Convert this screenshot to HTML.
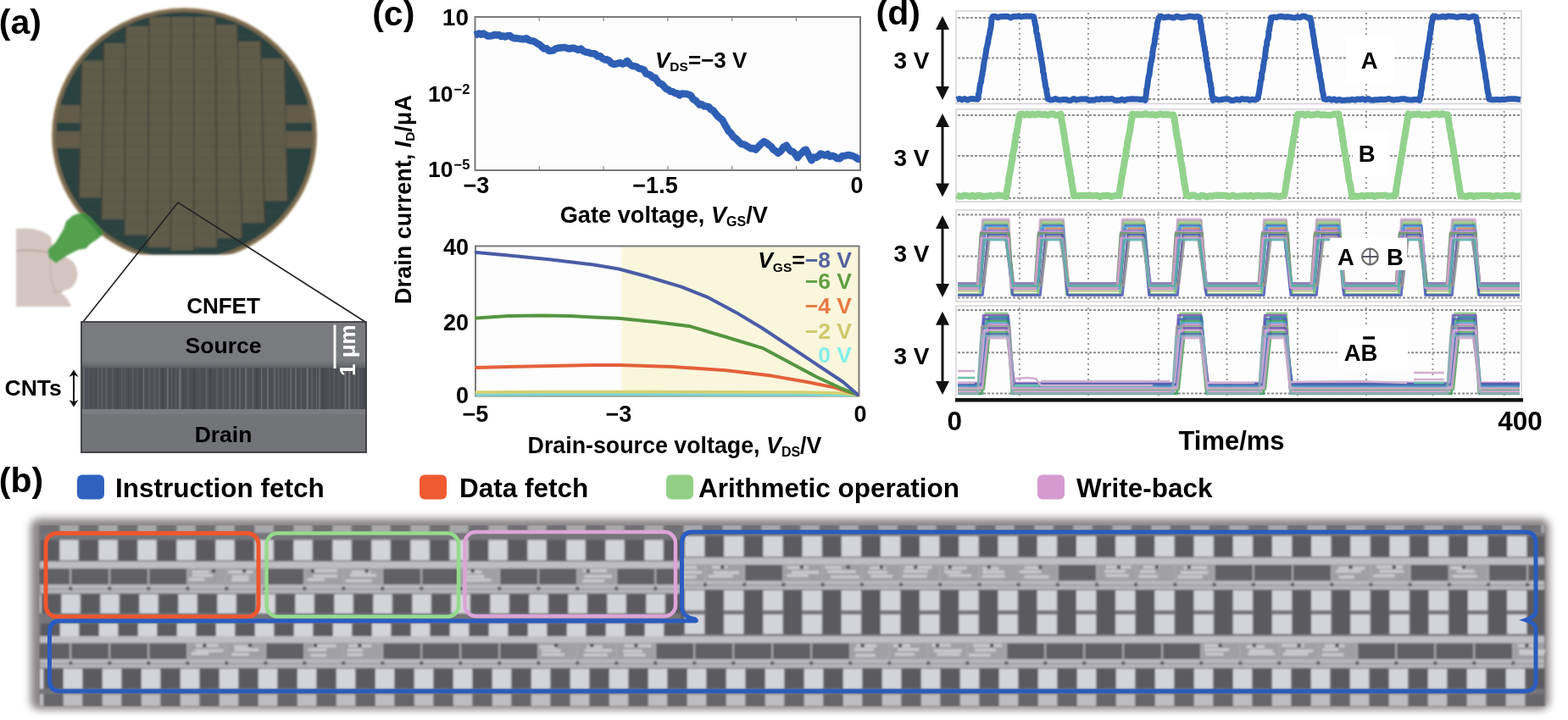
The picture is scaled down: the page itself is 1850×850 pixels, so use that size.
<!DOCTYPE html>
<html><head><meta charset="utf-8"><title>CNT computer figure</title>
<style>html,body{margin:0;padding:0;background:#fff;width:1850px;height:850px;overflow:hidden}svg{display:block}</style>
</head><body>
<svg width="1850" height="850" viewBox="0 0 1850 850" font-family='"Liberation Sans", Arial, sans-serif'>
<rect width="1850" height="850" fill="#fff"/>
<defs><filter id="hblur"><feGaussianBlur stdDeviation="0.8"/></filter></defs>
<text x="-1.2" y="40" font-size="41" text-anchor="start" font-weight="bold" fill="#000" >(a)</text>
<g filter="url(#hblur)"><path d="M19,270 C35,268 52,271 60,280 L63,296 C70,299 80,304 87,310 C93,318 93,330 86,338 C82,342 76,343 70,344 C76,348 82,355 84,362 L19,362 Z" fill="#d4c6bf"/>
<path d="M19,296 C35,294 48,296 60,299" stroke="#bda9a0" stroke-width="2" fill="none"/>
<path d="M62,344 C66,345 70,345 74,344" stroke="#bda9a0" stroke-width="1.5" fill="none"/>
<path d="M60,300 C58,320 60,335 66,345" stroke="#c9b9b1" stroke-width="2" fill="none"/></g>
<defs><clipPath id="wclip"><path d="M60.8,160 A156.7,151 0 0 1 374.2,160 A156.7,151 0 0 1 283,297 Q276,300.5 263,300.5 L173,300.5 Q159,300.5 152,297 A156.7,151 0 0 1 60.8,160 Z"/></clipPath><clipPath id="wclip2"><ellipse cx="217.5" cy="160" rx="151.2" ry="145.5"/></clipPath><filter id="wblur"><feGaussianBlur stdDeviation="0.9"/></filter></defs>
<g filter="url(#wblur)"><g clip-path="url(#wclip)">
<rect x="55" y="5" width="325" height="300" fill="#ae9872"/>
<ellipse cx="217.5" cy="160" rx="155.3" ry="149.6" fill="#76684f"/>
<g clip-path="url(#wclip2)"><rect x="55" y="5" width="325" height="300" fill="#2b4240"/>
<path d="M96.4,71.5 L122.3,71.5 L120.1,233.5 L93.2,233.5 Z" fill="#5f5b49"/>
<path d="M122.6,51 L148.3,51 L146.9,259 L119.8,259 Z" fill="#5f5b49"/>
<path d="M148.4,31 L175.8,31 L174.1,277.5 L146.8,277.5 Z" fill="#5f5b49"/>
<path d="M175.9,20 L201.4,20 L201.4,292 L174.0,292 Z" fill="#5f5b49"/>
<path d="M201.4,20 L228.8,20 L228.7,295.5 L201.4,295.5 Z" fill="#5f5b49"/>
<path d="M228.8,20 L254.3,20 L256.0,292 L228.7,292 Z" fill="#5f5b49"/>
<path d="M254.4,29 L280.0,29 L285.7,281 L255.9,281 Z" fill="#5f5b49"/>
<path d="M280.5,49 L307.8,49 L312.3,263 L285.3,263 Z" fill="#5f5b49"/>
<path d="M308.2,69 L335.7,69 L339.3,237 L311.8,237 Z" fill="#5f5b49"/>
<line x1="96.4" y1="71.5" x2="93.2" y2="233.5" stroke="#3f4038" stroke-width="1.4"/>
<line x1="122.6" y1="51" x2="119.8" y2="259" stroke="#3f4038" stroke-width="1.4"/>
<line x1="148.4" y1="31" x2="146.8" y2="277.5" stroke="#3f4038" stroke-width="1.4"/>
<line x1="175.9" y1="20" x2="174.0" y2="292" stroke="#3f4038" stroke-width="1.4"/>
<line x1="201.4" y1="20" x2="201.4" y2="295.5" stroke="#3f4038" stroke-width="1.4"/>
<line x1="228.8" y1="20" x2="228.7" y2="295.5" stroke="#3f4038" stroke-width="1.4"/>
<line x1="254.3" y1="20" x2="256.0" y2="292" stroke="#3f4038" stroke-width="1.4"/>
<line x1="280.0" y1="29" x2="285.7" y2="281" stroke="#3f4038" stroke-width="1.4"/>
<line x1="307.8" y1="49" x2="312.3" y2="263" stroke="#3f4038" stroke-width="1.4"/>
<line x1="335.7" y1="69" x2="339.3" y2="237" stroke="#3f4038" stroke-width="1.4"/>
<rect x="58.0" y="124" width="36.8" height="21" fill="#625c4a"/>
<rect x="58.0" y="155" width="36.8" height="20" fill="#625c4a"/>
<rect x="337.4" y="124" width="38.6" height="21" fill="#625c4a"/>
<rect x="337.4" y="155" width="38.6" height="20" fill="#625c4a"/>
<line x1="92" y1="30" x2="341" y2="30" stroke="#55523f" stroke-width="0.7" opacity="0.6"/>
<line x1="92" y1="43" x2="341" y2="43" stroke="#55523f" stroke-width="0.7" opacity="0.6"/>
<line x1="92" y1="56" x2="341" y2="56" stroke="#55523f" stroke-width="0.7" opacity="0.6"/>
<line x1="92" y1="69" x2="341" y2="69" stroke="#55523f" stroke-width="0.7" opacity="0.6"/>
<line x1="92" y1="82" x2="341" y2="82" stroke="#55523f" stroke-width="0.7" opacity="0.6"/>
<line x1="92" y1="95" x2="341" y2="95" stroke="#55523f" stroke-width="0.7" opacity="0.6"/>
<line x1="92" y1="108" x2="341" y2="108" stroke="#55523f" stroke-width="0.7" opacity="0.6"/>
<line x1="92" y1="121" x2="341" y2="121" stroke="#55523f" stroke-width="0.7" opacity="0.6"/>
<line x1="92" y1="134" x2="341" y2="134" stroke="#55523f" stroke-width="0.7" opacity="0.6"/>
<line x1="92" y1="147" x2="341" y2="147" stroke="#55523f" stroke-width="0.7" opacity="0.6"/>
<line x1="92" y1="160" x2="341" y2="160" stroke="#55523f" stroke-width="0.7" opacity="0.6"/>
<line x1="92" y1="173" x2="341" y2="173" stroke="#55523f" stroke-width="0.7" opacity="0.6"/>
<line x1="92" y1="186" x2="341" y2="186" stroke="#55523f" stroke-width="0.7" opacity="0.6"/>
<line x1="92" y1="199" x2="341" y2="199" stroke="#55523f" stroke-width="0.7" opacity="0.6"/>
<line x1="92" y1="212" x2="341" y2="212" stroke="#55523f" stroke-width="0.7" opacity="0.6"/>
<line x1="92" y1="225" x2="341" y2="225" stroke="#55523f" stroke-width="0.7" opacity="0.6"/>
<line x1="92" y1="238" x2="341" y2="238" stroke="#55523f" stroke-width="0.7" opacity="0.6"/>
<line x1="92" y1="251" x2="341" y2="251" stroke="#55523f" stroke-width="0.7" opacity="0.6"/>
<line x1="92" y1="264" x2="341" y2="264" stroke="#55523f" stroke-width="0.7" opacity="0.6"/>
<line x1="92" y1="277" x2="341" y2="277" stroke="#55523f" stroke-width="0.7" opacity="0.6"/>
<line x1="92" y1="290" x2="341" y2="290" stroke="#55523f" stroke-width="0.7" opacity="0.6"/>
</g></g></g>
<g filter="url(#hblur)"><path d="M56.6,295 L65.8,286 L75,270.6 L78,261.4 L85.7,254.5 L91.8,252.2 L99.5,251.5 L107,256.8 L116.3,267.5 L122.4,275.2 L116.3,281.3 L107,287.4 L101,293.5 L91.8,295 L79.6,301.2 L65.8,310.4 L58,304 Z" fill="#52a04e"/>
<path d="M99.5,251.5 L107,256.8 L116.3,267.5 L122.4,275.2 L118,278 L110,268 L102,259 L95,254 Z" fill="#3f8a40"/></g>
<path d="M98,380 L210,239 L431,380" fill="none" stroke="#222" stroke-width="1.6"/>
<text x="263.5" y="370" font-size="26" text-anchor="middle" font-weight="bold" fill="#000" >CNFET</text>
<rect x="96" y="380" width="336" height="154" fill="#76777b"/>
<rect x="96" y="380" width="336" height="50" fill="#7a7b7f"/>
<defs><linearGradient id="semg" x1="0" y1="0" x2="0" y2="1"><stop offset="0" stop-color="#7a7b7f"/><stop offset="1" stop-color="#5d5e62"/></linearGradient></defs>
<rect x="96" y="426" width="336" height="9" fill="url(#semg)"/>
<rect x="96" y="434.5" width="336" height="49" fill="#4d4f54"/>
<rect x="98.0" y="435" width="2" height="48" fill="#63656a"/>
<rect x="103.6" y="435" width="1" height="48" fill="#5c5e63"/>
<rect x="109.9" y="435" width="1" height="48" fill="#575a5e"/>
<rect x="115.2" y="435" width="1.5" height="48" fill="#5c5e63"/>
<rect x="119.0" y="435" width="2.5" height="48" fill="#5c5e63"/>
<rect x="124.5" y="435" width="2.5" height="48" fill="#5c5e63"/>
<rect x="132.3" y="435" width="1" height="48" fill="#63656a"/>
<rect x="137.8" y="435" width="1" height="48" fill="#444649"/>
<rect x="143.2" y="435" width="1" height="48" fill="#63656a"/>
<rect x="146.4" y="435" width="1.5" height="48" fill="#575a5e"/>
<rect x="151.5" y="435" width="1" height="48" fill="#444649"/>
<rect x="155.8" y="435" width="1.5" height="48" fill="#5c5e63"/>
<rect x="161.6" y="435" width="1.5" height="48" fill="#575a5e"/>
<rect x="165.5" y="435" width="1" height="48" fill="#444649"/>
<rect x="168.7" y="435" width="1.5" height="48" fill="#6a6c71"/>
<rect x="174.9" y="435" width="2.5" height="48" fill="#575a5e"/>
<rect x="181.3" y="435" width="2.5" height="48" fill="#575a5e"/>
<rect x="187.0" y="435" width="1.5" height="48" fill="#63656a"/>
<rect x="190.8" y="435" width="2" height="48" fill="#444649"/>
<rect x="196.8" y="435" width="2" height="48" fill="#6a6c71"/>
<rect x="202.0" y="435" width="1" height="48" fill="#5c5e63"/>
<rect x="207.0" y="435" width="1.5" height="48" fill="#575a5e"/>
<rect x="211.1" y="435" width="2.5" height="48" fill="#6a6c71"/>
<rect x="215.8" y="435" width="1" height="48" fill="#444649"/>
<rect x="221.1" y="435" width="2" height="48" fill="#575a5e"/>
<rect x="227.9" y="435" width="2.5" height="48" fill="#444649"/>
<rect x="235.5" y="435" width="1" height="48" fill="#5c5e63"/>
<rect x="242.3" y="435" width="2.5" height="48" fill="#5c5e63"/>
<rect x="247.1" y="435" width="2" height="48" fill="#444649"/>
<rect x="255.0" y="435" width="2.5" height="48" fill="#575a5e"/>
<rect x="262.4" y="435" width="2" height="48" fill="#5c5e63"/>
<rect x="270.2" y="435" width="2" height="48" fill="#63656a"/>
<rect x="276.6" y="435" width="2.5" height="48" fill="#5c5e63"/>
<rect x="282.0" y="435" width="2" height="48" fill="#63656a"/>
<rect x="288.9" y="435" width="2.5" height="48" fill="#6a6c71"/>
<rect x="297.1" y="435" width="2.5" height="48" fill="#5c5e63"/>
<rect x="302.3" y="435" width="2.5" height="48" fill="#444649"/>
<rect x="307.9" y="435" width="1.5" height="48" fill="#6a6c71"/>
<rect x="314.8" y="435" width="2" height="48" fill="#6a6c71"/>
<rect x="322.8" y="435" width="2.5" height="48" fill="#63656a"/>
<rect x="327.9" y="435" width="1.5" height="48" fill="#63656a"/>
<rect x="332.3" y="435" width="1.5" height="48" fill="#5c5e63"/>
<rect x="337.8" y="435" width="1.5" height="48" fill="#575a5e"/>
<rect x="342.4" y="435" width="1.5" height="48" fill="#6a6c71"/>
<rect x="348.0" y="435" width="2" height="48" fill="#63656a"/>
<rect x="354.8" y="435" width="1" height="48" fill="#6a6c71"/>
<rect x="361.4" y="435" width="2.5" height="48" fill="#6a6c71"/>
<rect x="367.5" y="435" width="1" height="48" fill="#6a6c71"/>
<rect x="373.0" y="435" width="1" height="48" fill="#63656a"/>
<rect x="376.3" y="435" width="1.5" height="48" fill="#6a6c71"/>
<rect x="380.4" y="435" width="2" height="48" fill="#444649"/>
<rect x="384.6" y="435" width="1" height="48" fill="#444649"/>
<rect x="388.2" y="435" width="1" height="48" fill="#575a5e"/>
<rect x="393.7" y="435" width="1" height="48" fill="#63656a"/>
<rect x="399.2" y="435" width="1.5" height="48" fill="#575a5e"/>
<rect x="406.5" y="435" width="2" height="48" fill="#6a6c71"/>
<rect x="411.0" y="435" width="2.5" height="48" fill="#6a6c71"/>
<rect x="417.4" y="435" width="2" height="48" fill="#5c5e63"/>
<rect x="422.0" y="435" width="2" height="48" fill="#575a5e"/>
<rect x="427.9" y="435" width="1.5" height="48" fill="#444649"/>
<rect x="96" y="483" width="336" height="7" fill="#7b7c80"/>
<rect x="96" y="489" width="336" height="45" fill="#737478"/>
<rect x="96" y="380" width="336" height="154" fill="none" stroke="#3a3a3c" stroke-width="1.8"/>
<text x="263.5" y="417" font-size="26.5" text-anchor="middle" font-weight="bold" fill="#000" >Source</text>
<text x="263.5" y="521.5" font-size="26.5" text-anchor="middle" font-weight="bold" fill="#000" >Drain</text>
<text x="5.5" y="467" font-size="26.5" text-anchor="start" font-weight="bold" fill="#000" >CNTs</text>
<line x1="87" y1="442" x2="87" y2="475" stroke="#111" stroke-width="2"/>
<path d="M81.5,445 L87,436.5 L92.5,445 L87,442.5 Z" fill="#111"/>
<path d="M81.5,472 L87,480.5 L92.5,472 L87,474.5 Z" fill="#111"/>
<rect x="393.5" y="383.5" width="3" height="51.5" fill="#f4f4f4"/>
<text x="0" y="0" font-size="26" text-anchor="start" font-weight="bold" fill="#fff" transform="translate(419,444) rotate(-90)">1 μm</text>
<text x="439.2" y="29.5" font-size="41" text-anchor="start" font-weight="bold" fill="#000" >(c)</text>
<rect x="560.5" y="20" width="454.5" height="181" fill="#fcfcfc" stroke="#7a7a7a" stroke-width="2"/>
<line x1="636.3" y1="21" x2="636.3" y2="25" stroke="#888" stroke-width="1.2"/>
<line x1="636.3" y1="196" x2="636.3" y2="200" stroke="#888" stroke-width="1.2"/>
<line x1="712.1" y1="21" x2="712.1" y2="25" stroke="#888" stroke-width="1.2"/>
<line x1="712.1" y1="196" x2="712.1" y2="200" stroke="#888" stroke-width="1.2"/>
<line x1="787.9" y1="21" x2="787.9" y2="25" stroke="#888" stroke-width="1.2"/>
<line x1="787.9" y1="196" x2="787.9" y2="200" stroke="#888" stroke-width="1.2"/>
<line x1="863.7" y1="21" x2="863.7" y2="25" stroke="#888" stroke-width="1.2"/>
<line x1="863.7" y1="196" x2="863.7" y2="200" stroke="#888" stroke-width="1.2"/>
<line x1="939.5" y1="21" x2="939.5" y2="25" stroke="#888" stroke-width="1.2"/>
<line x1="939.5" y1="196" x2="939.5" y2="200" stroke="#888" stroke-width="1.2"/>
<path d="M560.2,41.6 L562.8,40.5 L565.4,39.5 L567.9,40.8 L570.5,39.5 L573.1,41.1 L575.7,42.6 L578.3,42.5 L580.9,42.1 L583.4,41.0 L586.0,41.5 L588.6,41.1 L591.2,43.0 L593.8,42.5 L596.3,43.4 L598.9,42.2 L601.5,42.1 L604.3,44.3 L607.1,45.2 L609.9,45.3 L612.6,45.6 L615.4,46.1 L618.2,46.3 L621.0,45.2 L623.7,47.3 L626.3,48.1 L629.0,48.4 L631.6,49.7 L634.3,51.7 L637.0,52.9 L639.6,55.5 L642.3,57.5 L644.9,57.3 L647.6,60.0 L650.2,59.9 L652.9,59.5 L655.5,57.5 L658.2,56.8 L660.8,56.5 L663.4,56.2 L666.1,55.9 L668.7,56.9 L671.4,57.5 L674.0,57.0 L676.8,56.7 L679.7,57.9 L682.5,59.0 L685.3,57.6 L688.1,60.1 L691.0,61.5 L693.8,61.8 L696.6,62.9 L699.4,63.2 L702.2,63.5 L705.1,66.4 L707.9,66.2 L710.7,68.8 L713.5,70.4 L716.1,70.2 L718.8,71.7 L721.4,74.8 L724.1,75.7 L726.7,75.5 L729.4,74.7 L732.0,74.1 L734.7,75.6 L737.3,74.6 L740.0,71.9 L742.8,75.6 L745.6,77.6 L748.4,78.2 L751.3,78.8 L754.1,81.0 L756.9,81.3 L759.7,82.5 L762.4,87.0 L765.0,87.6 L767.7,88.9 L770.3,91.7 L773.0,91.8 L775.6,95.8 L778.2,98.4 L780.8,99.2 L783.4,102.1 L786.0,104.9 L788.6,105.9 L791.2,108.1 L793.8,108.3 L796.4,110.0 L799.0,110.3 L801.7,112.5 L804.4,110.6 L807.1,110.7 L809.8,110.9 L812.5,111.7 L815.1,112.9 L817.7,117.0 L820.4,118.4 L823.0,121.1 L825.6,123.7 L828.2,123.2 L830.9,125.4 L833.5,125.6 L836.2,126.1 L838.8,129.5 L841.4,130.3 L844.1,133.8 L846.7,137.2 L849.4,139.3 L852.0,141.3 L854.5,145.9 L857.0,150.1 L859.5,154.8 L862.0,156.8 L865.3,161.5 L868.5,163.9 L871.8,167.3 L874.6,170.0 L877.5,170.4 L880.3,171.8 L883.1,173.6 L885.9,175.2 L888.8,175.0 L891.6,176.7 L894.9,173.1 L898.2,169.8 L901.5,167.1 L904.2,168.6 L907.0,171.0 L909.8,173.0 L912.5,176.6 L915.2,178.1 L918.0,180.8 L921.3,178.3 L924.6,173.5 L927.9,171.7 L930.5,175.8 L933.1,178.4 L935.8,179.3 L938.4,182.2 L941.0,186.1 L943.5,182.5 L946.0,180.6 L948.5,177.6 L951.0,176.9 L954.2,183.1 L957.5,189.2 L960.1,185.6 L962.8,186.0 L965.4,184.5 L968.1,181.6 L970.7,182.4 L973.5,183.4 L976.4,181.9 L979.2,184.8 L982.0,183.9 L984.8,184.8 L987.7,187.1 L990.5,187.3 L993.8,184.2 L997.1,183.9 L1000.4,183.0 L1003.3,183.5 L1006.2,184.1 L1009.2,185.5 L1012.1,187.7 L1015.0,188.0" fill="none" stroke="#2f5fb5" stroke-width="8.5" stroke-linejoin="round"/>
<text x="773" y="79.5" font-size="26" text-anchor="start" font-weight="bold" fill="#000" ><tspan font-style="italic">V</tspan><tspan font-size="15.5" dy="4.5">DS</tspan><tspan dy="-4.5">=−3 V</tspan></text>
<text x="553" y="30" font-size="28" text-anchor="end" font-weight="bold" fill="#000" >10</text>
<text x="534.5" y="119.5" font-size="26.5" text-anchor="end" font-weight="bold" fill="#000" >10</text>
<text x="535.5" y="110.5" font-size="16.5" text-anchor="start" font-weight="bold" fill="#000" >−2</text>
<text x="534.5" y="209" font-size="26.5" text-anchor="end" font-weight="bold" fill="#000" >10</text>
<text x="535.5" y="200" font-size="16.5" text-anchor="start" font-weight="bold" fill="#000" >−5</text>
<text x="562" y="228" font-size="27" text-anchor="middle" font-weight="bold" fill="#000" >−3</text>
<text x="773" y="228" font-size="27" text-anchor="middle" font-weight="bold" fill="#000" >−1.5</text>
<text x="1011" y="228" font-size="27" text-anchor="middle" font-weight="bold" fill="#000" >0</text>
<text x="783.3" y="262.7" font-size="27.2" text-anchor="middle" font-weight="bold" fill="#000" >Gate voltage, <tspan font-style="italic">V</tspan><tspan font-size="16" dy="4">GS</tspan><tspan dy="-4">/V</tspan></text>
<text x="0" y="0" font-size="27" text-anchor="middle" font-weight="bold" fill="#000" transform="translate(484.8,235.5) rotate(-90)">Drain current, <tspan font-style="italic">I</tspan><tspan font-size="15.5" dy="4.5">D</tspan><tspan dy="-4.5">/μA</tspan></text>
<rect x="561" y="290.5" width="452.5" height="177" fill="#fcfcfc"/>
<rect x="733.5" y="290.5" width="280" height="177" fill="#f9f6dc"/>
<rect x="561" y="290.5" width="452.5" height="177" fill="none" stroke="#7a7a7a" stroke-width="2"/>
<path d="M562,466 L650,465.8 L733,465.8 L850,466 L950,466 L1012,466.5" fill="none" stroke="#7fd8d0" stroke-width="3.5" stroke-linejoin="round" stroke-linecap="round"/>
<path d="M562,463 L650,462.5 L733,462.5 L850,462.7 L950,463 L990,464 L1012,466" fill="none" stroke="#d6d070" stroke-width="3.5" stroke-linejoin="round" stroke-linecap="round"/>
<path d="M562,434 L600,433 L650,432 L700,431 L730,430.9 L793.6,433 L857,437.2 L910,443.6 L952.5,451 L984,457.4 L1011.8,465.8" fill="none" stroke="#e4603a" stroke-width="4" stroke-linejoin="round" stroke-linecap="round"/>
<path d="M562,375.5 L600,373 L640,372.5 L672,373 L700,374.5 L730,375.8 L772.4,380 L814.7,385.3 L857,398 L899.5,410.8 L931.3,427.7 L963,444.7 L994.8,459.5 L1011.8,465.8" fill="none" stroke="#55953f" stroke-width="4" stroke-linejoin="round" stroke-linecap="round"/>
<path d="M562,298 L600,301.5 L650,306.5 L700,312.5 L730,317.5 L761.8,326 L804,338.7 L836,351.4 L867.7,368.4 L899.5,387.5 L931.3,408.6 L963,429.8 L994.8,451 L1011.8,465.8" fill="none" stroke="#4a5ca6" stroke-width="4" stroke-linejoin="round" stroke-linecap="round"/>
<text x="1005" y="316" font-size="26.5" text-anchor="end" font-weight="bold" fill="#000" ><tspan font-style="italic" fill="#000">V</tspan><tspan font-size="15.5" dy="4.5" fill="#000">GS</tspan><tspan dy="-5" fill="#000">=</tspan><tspan fill="#55649f">−8 V</tspan></text>
<text x="1005" y="340.5" font-size="26.5" text-anchor="end" font-weight="bold" fill="#62a044" >−6 V</text>
<text x="1005" y="370" font-size="26.5" text-anchor="end" font-weight="bold" fill="#e67a44" >−4 V</text>
<text x="1005" y="399.5" font-size="26.5" text-anchor="end" font-weight="bold" fill="#cfc86e" >−2 V</text>
<text x="1005" y="427.5" font-size="26.5" text-anchor="end" font-weight="bold" fill="#84eeea" >0 V</text>
<text x="553" y="301" font-size="27" text-anchor="end" font-weight="bold" fill="#000" >40</text>
<text x="553" y="390" font-size="27" text-anchor="end" font-weight="bold" fill="#000" >20</text>
<text x="553" y="476" font-size="27" text-anchor="end" font-weight="bold" fill="#000" >0</text>
<text x="561" y="497.5" font-size="27" text-anchor="middle" font-weight="bold" fill="#000" >−5</text>
<text x="730" y="497.5" font-size="27" text-anchor="middle" font-weight="bold" fill="#000" >−3</text>
<text x="1015" y="497.5" font-size="27" text-anchor="middle" font-weight="bold" fill="#000" >0</text>
<text x="796" y="534.5" font-size="26.8" text-anchor="middle" font-weight="bold" fill="#000" >Drain-source voltage, <tspan font-style="italic">V</tspan><tspan font-size="16" dy="4">DS</tspan><tspan dy="-4">/V</tspan></text>
<text x="1033.6" y="29.4" font-size="41" text-anchor="start" font-weight="bold" fill="#000" >(d)</text>
<rect x="1128" y="13" width="667" height="109.5" fill="#fdfdfd" stroke="#d0d0d0" stroke-width="1.4"/>
<line x1="1130" y1="21" x2="1793" y2="21" stroke="#8e8e8e" stroke-width="2" stroke-dasharray="3 2"/>
<line x1="1130" y1="68.5" x2="1793" y2="68.5" stroke="#8e8e8e" stroke-width="2" stroke-dasharray="3 2"/>
<line x1="1130" y1="117" x2="1793" y2="117" stroke="#8e8e8e" stroke-width="2" stroke-dasharray="3 2"/>
<line x1="1202.9" y1="15" x2="1202.9" y2="120.5" stroke="#9a9a9a" stroke-width="2" stroke-dasharray="2 4"/>
<line x1="1284" y1="15" x2="1284" y2="120.5" stroke="#9a9a9a" stroke-width="2" stroke-dasharray="2 4"/>
<line x1="1366.9" y1="15" x2="1366.9" y2="120.5" stroke="#9a9a9a" stroke-width="2" stroke-dasharray="2 4"/>
<line x1="1447.5" y1="15" x2="1447.5" y2="120.5" stroke="#9a9a9a" stroke-width="2" stroke-dasharray="2 4"/>
<line x1="1531" y1="15" x2="1531" y2="120.5" stroke="#9a9a9a" stroke-width="2" stroke-dasharray="2 4"/>
<line x1="1612" y1="15" x2="1612" y2="120.5" stroke="#9a9a9a" stroke-width="2" stroke-dasharray="2 4"/>
<line x1="1690.5" y1="15" x2="1690.5" y2="120.5" stroke="#9a9a9a" stroke-width="2" stroke-dasharray="2 4"/>
<line x1="1774.7" y1="15" x2="1774.7" y2="120.5" stroke="#9a9a9a" stroke-width="2" stroke-dasharray="2 4"/>
<rect x="1128" y="129" width="667" height="109" fill="#fdfdfd" stroke="#d0d0d0" stroke-width="1.4"/>
<line x1="1130" y1="136" x2="1793" y2="136" stroke="#8e8e8e" stroke-width="2" stroke-dasharray="3 2"/>
<line x1="1130" y1="184" x2="1793" y2="184" stroke="#8e8e8e" stroke-width="2" stroke-dasharray="3 2"/>
<line x1="1130" y1="233.8" x2="1793" y2="233.8" stroke="#8e8e8e" stroke-width="2" stroke-dasharray="3 2"/>
<line x1="1202.9" y1="131" x2="1202.9" y2="236" stroke="#9a9a9a" stroke-width="2" stroke-dasharray="2 4"/>
<line x1="1284" y1="131" x2="1284" y2="236" stroke="#9a9a9a" stroke-width="2" stroke-dasharray="2 4"/>
<line x1="1366.9" y1="131" x2="1366.9" y2="236" stroke="#9a9a9a" stroke-width="2" stroke-dasharray="2 4"/>
<line x1="1447.5" y1="131" x2="1447.5" y2="236" stroke="#9a9a9a" stroke-width="2" stroke-dasharray="2 4"/>
<line x1="1531" y1="131" x2="1531" y2="236" stroke="#9a9a9a" stroke-width="2" stroke-dasharray="2 4"/>
<line x1="1612" y1="131" x2="1612" y2="236" stroke="#9a9a9a" stroke-width="2" stroke-dasharray="2 4"/>
<line x1="1690.5" y1="131" x2="1690.5" y2="236" stroke="#9a9a9a" stroke-width="2" stroke-dasharray="2 4"/>
<line x1="1774.7" y1="131" x2="1774.7" y2="236" stroke="#9a9a9a" stroke-width="2" stroke-dasharray="2 4"/>
<rect x="1128" y="248" width="667" height="108" fill="#fdfdfd" stroke="#d0d0d0" stroke-width="1.4"/>
<line x1="1130" y1="253.6" x2="1793" y2="253.6" stroke="#8e8e8e" stroke-width="2" stroke-dasharray="3 2"/>
<line x1="1130" y1="302.6" x2="1793" y2="302.6" stroke="#8e8e8e" stroke-width="2" stroke-dasharray="3 2"/>
<line x1="1130" y1="351.5" x2="1793" y2="351.5" stroke="#8e8e8e" stroke-width="2" stroke-dasharray="3 2"/>
<line x1="1202.9" y1="250" x2="1202.9" y2="354" stroke="#9a9a9a" stroke-width="2" stroke-dasharray="2 4"/>
<line x1="1284" y1="250" x2="1284" y2="354" stroke="#9a9a9a" stroke-width="2" stroke-dasharray="2 4"/>
<line x1="1366.9" y1="250" x2="1366.9" y2="354" stroke="#9a9a9a" stroke-width="2" stroke-dasharray="2 4"/>
<line x1="1447.5" y1="250" x2="1447.5" y2="354" stroke="#9a9a9a" stroke-width="2" stroke-dasharray="2 4"/>
<line x1="1531" y1="250" x2="1531" y2="354" stroke="#9a9a9a" stroke-width="2" stroke-dasharray="2 4"/>
<line x1="1612" y1="250" x2="1612" y2="354" stroke="#9a9a9a" stroke-width="2" stroke-dasharray="2 4"/>
<line x1="1690.5" y1="250" x2="1690.5" y2="354" stroke="#9a9a9a" stroke-width="2" stroke-dasharray="2 4"/>
<line x1="1774.7" y1="250" x2="1774.7" y2="354" stroke="#9a9a9a" stroke-width="2" stroke-dasharray="2 4"/>
<rect x="1128" y="361" width="667" height="110" fill="#fdfdfd" stroke="#d0d0d0" stroke-width="1.4"/>
<line x1="1130" y1="366" x2="1793" y2="366" stroke="#8e8e8e" stroke-width="2" stroke-dasharray="3 2"/>
<line x1="1130" y1="416.3" x2="1793" y2="416.3" stroke="#8e8e8e" stroke-width="2" stroke-dasharray="3 2"/>
<line x1="1130" y1="464.6" x2="1793" y2="464.6" stroke="#8e8e8e" stroke-width="2" stroke-dasharray="3 2"/>
<line x1="1202.9" y1="363" x2="1202.9" y2="469" stroke="#9a9a9a" stroke-width="2" stroke-dasharray="2 4"/>
<line x1="1284" y1="363" x2="1284" y2="469" stroke="#9a9a9a" stroke-width="2" stroke-dasharray="2 4"/>
<line x1="1366.9" y1="363" x2="1366.9" y2="469" stroke="#9a9a9a" stroke-width="2" stroke-dasharray="2 4"/>
<line x1="1447.5" y1="363" x2="1447.5" y2="469" stroke="#9a9a9a" stroke-width="2" stroke-dasharray="2 4"/>
<line x1="1531" y1="363" x2="1531" y2="469" stroke="#9a9a9a" stroke-width="2" stroke-dasharray="2 4"/>
<line x1="1612" y1="363" x2="1612" y2="469" stroke="#9a9a9a" stroke-width="2" stroke-dasharray="2 4"/>
<line x1="1690.5" y1="363" x2="1690.5" y2="469" stroke="#9a9a9a" stroke-width="2" stroke-dasharray="2 4"/>
<line x1="1774.7" y1="363" x2="1774.7" y2="469" stroke="#9a9a9a" stroke-width="2" stroke-dasharray="2 4"/>
<rect x="1588" y="42" width="57.5" height="56" fill="#fff"/>
<rect x="1596" y="155" width="43" height="52" fill="#fff"/>
<path d="M1128.7,117.6 L1132.0,116.5 L1135.0,117.7 L1138.2,116.6 L1141.5,118.1 L1144.6,116.7 L1147.2,116.6 L1150.6,117.0 L1153.3,117.3 L1154.3,115.2 L1154.4,110.9 L1155.3,108.8 L1155.7,104.9 L1155.9,103.1 L1156.6,98.9 L1157.5,97.1 L1157.9,93.0 L1158.5,90.0 L1159.0,87.9 L1159.2,85.1 L1160.1,81.6 L1160.2,79.1 L1160.8,75.4 L1161.3,72.3 L1161.8,69.9 L1162.4,67.8 L1162.9,64.3 L1163.4,61.1 L1163.8,57.9 L1164.3,55.9 L1165.2,51.9 L1165.7,50.4 L1166.0,47.2 L1166.7,43.6 L1167.5,40.5 L1167.8,38.1 L1168.6,34.5 L1169.1,32.2 L1169.5,28.7 L1169.8,25.0 L1170.2,22.1 L1171.1,19.5 L1173.9,19.2 L1177.3,20.7 L1180.3,19.6 L1183.1,19.6 L1186.3,19.3 L1189.3,19.5 L1192.7,20.9 L1195.5,19.5 L1198.8,19.6 L1201.5,19.0 L1204.6,19.9 L1207.8,19.4 L1210.8,19.0 L1213.7,19.2 L1216.9,19.1 L1219.7,19.6 L1220.4,23.2 L1221.0,26.6 L1221.6,29.6 L1222.3,32.0 L1222.5,36.2 L1222.9,38.7 L1223.7,40.4 L1224.3,45.2 L1224.7,47.9 L1225.3,49.7 L1225.7,53.5 L1226.4,57.2 L1226.9,59.8 L1227.5,63.0 L1227.9,65.2 L1228.0,68.0 L1228.7,71.0 L1229.5,75.0 L1229.9,78.1 L1230.4,80.9 L1230.5,84.6 L1231.5,87.0 L1231.9,90.4 L1232.1,93.6 L1232.7,95.3 L1233.3,99.7 L1233.7,102.7 L1234.7,105.3 L1234.9,108.3 L1235.6,111.9 L1236.1,114.7 L1236.2,116.8 L1239.4,118.0 L1242.4,117.6 L1245.2,116.6 L1248.4,117.8 L1251.7,117.9 L1254.5,117.5 L1257.6,117.4 L1260.4,118.3 L1263.4,118.5 L1266.9,116.5 L1269.6,118.1 L1272.9,117.4 L1275.5,116.9 L1279.0,116.9 L1281.7,116.8 L1284.7,118.4 L1287.5,118.1 L1290.7,118.3 L1293.9,117.0 L1297.0,117.5 L1299.5,116.5 L1302.8,117.4 L1305.7,116.8 L1308.7,117.1 L1312.0,116.5 L1315.0,118.2 L1317.6,118.4 L1321.0,118.3 L1323.8,117.2 L1326.8,118.5 L1330.0,117.2 L1332.9,117.1 L1335.7,116.7 L1339.1,117.1 L1342.2,117.0 L1344.8,117.5 L1347.8,117.2 L1351.3,118.3 L1351.7,114.7 L1352.2,112.3 L1352.5,108.8 L1352.7,105.8 L1353.5,102.8 L1354.1,98.8 L1354.2,97.0 L1354.8,93.1 L1355.4,89.7 L1356.1,88.0 L1356.4,84.3 L1356.9,81.1 L1357.4,77.2 L1357.8,74.3 L1358.7,71.8 L1358.8,69.6 L1359.8,65.6 L1359.8,62.0 L1360.3,59.3 L1360.8,56.0 L1361.4,53.7 L1362.2,51.0 L1362.4,47.2 L1363.0,44.1 L1363.4,40.5 L1363.9,39.2 L1364.3,35.2 L1365.1,32.9 L1365.3,28.7 L1365.8,25.9 L1366.5,24.0 L1367.2,20.7 L1369.8,19.1 L1373.2,20.8 L1376.1,20.2 L1378.9,19.8 L1382.4,20.7 L1385.4,20.9 L1388.1,19.2 L1391.1,20.0 L1394.4,20.9 L1397.5,20.3 L1400.6,19.9 L1403.5,19.1 L1406.7,19.5 L1409.8,20.3 L1412.4,19.3 L1415.5,20.3 L1416.2,22.3 L1416.3,26.1 L1417.1,28.9 L1417.4,32.4 L1417.7,34.8 L1418.5,39.2 L1419.1,42.1 L1419.4,43.8 L1419.8,48.3 L1420.5,50.1 L1420.6,53.5 L1421.5,56.4 L1421.7,59.9 L1422.6,62.1 L1422.5,65.4 L1423.3,69.1 L1423.6,72.4 L1424.4,74.9 L1424.6,78.8 L1425.1,81.6 L1425.5,83.4 L1426.3,86.6 L1426.9,90.1 L1427.0,92.6 L1427.6,96.5 L1428.4,98.5 L1428.5,101.7 L1429.4,104.6 L1429.3,107.5 L1430.0,112.2 L1430.7,114.9 L1431.3,118.4 L1434.0,116.9 L1437.5,118.0 L1440.1,117.8 L1443.4,117.2 L1446.5,116.8 L1449.4,117.1 L1452.7,118.4 L1455.7,118.4 L1458.9,117.2 L1462.4,118.1 L1465.3,116.6 L1468.4,117.2 L1471.8,116.9 L1474.6,118.3 L1477.5,117.3 L1481.1,118.0 L1483.7,116.6 L1484.2,115.3 L1484.9,111.9 L1485.7,108.0 L1485.9,106.2 L1486.6,101.8 L1487.1,98.9 L1487.4,95.2 L1488.2,94.0 L1488.6,91.0 L1488.7,86.5 L1489.5,84.9 L1490.3,80.7 L1490.4,77.8 L1491.0,75.7 L1491.3,72.4 L1492.1,69.4 L1492.7,65.9 L1492.9,62.3 L1493.4,60.2 L1493.7,56.0 L1494.7,53.0 L1494.7,49.5 L1495.5,47.1 L1496.3,45.1 L1496.8,40.9 L1496.8,37.5 L1497.5,35.7 L1498.0,31.7 L1498.5,29.4 L1499.1,26.6 L1499.7,23.4 L1499.8,20.7 L1502.9,20.1 L1506.1,20.5 L1509.0,19.5 L1512.1,19.3 L1515.6,20.2 L1518.3,19.8 L1521.8,20.0 L1524.4,20.6 L1527.7,21.0 L1530.4,19.9 L1533.9,20.7 L1537.0,19.1 L1539.7,19.2 L1542.7,20.9 L1546.0,20.9 L1546.4,23.8 L1547.0,25.6 L1547.7,30.0 L1547.8,32.4 L1548.6,34.7 L1548.9,37.6 L1549.3,40.8 L1550.1,44.7 L1550.3,46.4 L1550.9,50.8 L1551.3,53.1 L1551.8,57.2 L1552.5,58.7 L1552.8,62.4 L1553.5,66.0 L1553.8,68.1 L1554.6,71.6 L1554.9,74.5 L1555.8,77.5 L1556.0,80.7 L1556.4,84.7 L1557.3,86.8 L1557.3,90.5 L1557.8,92.1 L1558.7,96.0 L1559.2,99.0 L1559.7,102.2 L1559.8,104.3 L1560.5,108.6 L1561.2,110.6 L1561.6,114.2 L1562.0,116.8 L1564.9,117.5 L1568.4,116.7 L1571.2,118.1 L1574.5,116.9 L1577.0,118.4 L1580.6,117.5 L1583.1,118.4 L1586.4,118.3 L1589.6,118.1 L1592.3,118.1 L1595.4,117.3 L1598.9,118.2 L1601.5,116.9 L1604.7,117.5 L1607.7,116.7 L1610.7,117.9 L1614.2,116.6 L1617.0,118.0 L1619.7,118.2 L1622.9,117.7 L1626.2,117.8 L1629.1,117.3 L1632.3,117.4 L1635.4,117.4 L1638.3,116.5 L1641.5,117.5 L1644.3,118.0 L1647.7,117.4 L1650.4,117.4 L1653.4,116.8 L1656.6,116.7 L1659.7,117.5 L1662.5,117.8 L1665.6,118.0 L1669.1,117.5 L1671.7,117.5 L1674.9,118.4 L1675.3,115.2 L1676.3,111.9 L1676.6,107.7 L1677.2,105.3 L1677.7,103.1 L1677.7,99.8 L1678.6,95.3 L1678.8,93.6 L1679.2,90.9 L1679.7,87.7 L1680.1,84.0 L1681.1,80.4 L1681.2,77.9 L1681.7,73.9 L1682.1,71.1 L1683.0,69.1 L1683.5,65.0 L1683.9,61.9 L1684.2,59.9 L1684.6,57.3 L1685.2,53.7 L1685.9,49.7 L1686.4,47.7 L1686.6,45.0 L1687.0,42.3 L1687.6,38.0 L1688.2,35.1 L1688.4,32.7 L1688.8,29.8 L1689.4,26.4 L1690.3,23.2 L1690.6,19.6 L1693.2,19.1 L1696.3,20.2 L1699.5,20.0 L1702.7,19.3 L1705.3,20.3 L1708.2,19.0 L1711.4,19.2 L1714.4,19.4 L1717.6,20.2 L1720.3,20.2 L1723.5,19.3 L1726.8,19.5 L1729.3,19.2 L1732.6,20.7 L1735.7,19.8 L1738.4,19.0 L1741.6,20.1 L1741.9,23.3 L1742.4,27.0 L1743.1,28.6 L1743.7,31.3 L1743.9,35.0 L1744.2,37.4 L1745.1,40.4 L1745.4,45.3 L1745.6,46.8 L1746.4,50.5 L1746.9,54.1 L1747.1,56.2 L1747.7,58.7 L1748.5,63.2 L1748.9,64.7 L1749.5,69.2 L1749.7,72.3 L1750.2,74.3 L1750.5,77.4 L1750.9,80.6 L1751.8,84.4 L1752.4,87.5 L1752.5,90.2 L1753.1,93.7 L1753.6,95.7 L1754.2,100.1 L1754.4,103.0 L1754.8,104.8 L1755.4,108.8 L1756.3,111.9 L1756.4,115.2 L1756.9,117.0 L1760.3,117.8 L1763.3,117.8 L1766.5,117.4 L1769.5,117.9 L1772.6,117.4 L1775.6,117.6 L1778.5,116.9 L1781.7,116.7 L1785.0,116.8 L1787.5,116.7 L1791.2,117.2 L1794.0,117.5" fill="none" stroke="#2d5cb4" stroke-width="7" stroke-linejoin="round"/>
<path d="M1128.8,230.6 L1131.8,231.7 L1135.2,231.8 L1138.3,230.6 L1141.3,231.2 L1144.4,232.0 L1147.5,230.6 L1150.6,232.1 L1153.7,230.7 L1156.3,230.7 L1159.3,232.0 L1162.7,231.6 L1165.8,231.6 L1168.6,230.7 L1171.5,231.9 L1174.6,231.1 L1177.8,230.5 L1180.8,231.0 L1184.1,231.2 L1186.9,232.2 L1187.5,229.0 L1188.1,224.5 L1188.5,222.3 L1189.1,219.1 L1189.6,216.4 L1189.8,214.0 L1190.3,210.9 L1190.8,206.5 L1191.3,204.8 L1192.3,200.4 L1192.5,198.3 L1193.2,194.8 L1193.5,192.0 L1194.2,188.9 L1194.7,185.9 L1194.8,183.7 L1195.5,179.6 L1196.1,176.5 L1196.7,174.6 L1197.2,171.5 L1197.4,168.1 L1197.9,166.0 L1198.3,163.0 L1198.7,158.7 L1199.4,157.0 L1200.0,153.0 L1200.7,149.8 L1201.0,147.3 L1201.6,144.7 L1202.1,140.9 L1202.4,137.6 L1203.2,135.5 L1206.2,134.6 L1209.0,135.7 L1212.2,134.5 L1215.1,135.9 L1218.0,134.6 L1221.1,135.6 L1224.4,134.6 L1227.1,134.7 L1230.2,135.2 L1233.2,134.9 L1236.2,136.1 L1239.6,134.5 L1242.7,134.5 L1245.5,136.1 L1248.7,135.6 L1251.6,134.7 L1252.2,137.5 L1252.4,141.0 L1252.8,144.0 L1253.7,147.6 L1254.0,150.5 L1254.5,152.6 L1255.0,156.1 L1255.6,160.0 L1255.9,162.4 L1256.5,165.1 L1256.7,168.7 L1257.6,171.8 L1258.0,174.9 L1258.4,177.5 L1258.8,180.0 L1259.4,182.6 L1259.7,186.8 L1260.4,189.5 L1260.6,192.2 L1261.2,195.5 L1261.7,198.6 L1262.4,200.8 L1262.8,204.8 L1263.1,207.3 L1263.9,209.5 L1264.1,212.8 L1264.7,217.2 L1265.1,218.7 L1265.6,222.5 L1266.2,225.4 L1266.6,229.0 L1267.0,231.2 L1270.4,230.9 L1273.3,231.2 L1276.5,230.7 L1279.7,231.1 L1282.3,231.0 L1285.7,230.5 L1288.8,231.3 L1292.0,231.1 L1294.9,230.9 L1298.3,232.2 L1301.3,230.9 L1304.6,231.2 L1307.4,230.7 L1310.8,232.0 L1313.8,231.3 L1316.9,230.9 L1320.3,231.1 L1320.6,229.0 L1321.2,225.3 L1321.4,222.5 L1321.8,220.0 L1322.4,217.0 L1322.9,213.1 L1323.4,210.2 L1323.8,206.5 L1324.6,203.9 L1324.9,201.0 L1325.5,198.2 L1326.1,195.6 L1326.4,193.1 L1327.2,188.5 L1327.7,187.0 L1328.2,182.7 L1328.7,180.5 L1328.7,176.4 L1329.7,174.6 L1329.9,170.6 L1330.3,167.8 L1331.1,165.0 L1331.3,163.0 L1332.2,158.7 L1332.7,156.4 L1333.2,153.5 L1333.7,150.7 L1334.2,146.7 L1334.6,144.3 L1335.1,141.1 L1335.7,138.3 L1335.9,134.7 L1338.8,135.2 L1341.8,135.1 L1344.9,135.2 L1348.1,135.3 L1351.4,134.3 L1354.4,135.1 L1357.3,135.5 L1360.5,135.0 L1363.3,136.0 L1366.1,135.4 L1369.5,134.4 L1372.5,135.5 L1375.7,134.9 L1378.8,135.2 L1381.6,135.9 L1384.3,135.6 L1385.1,137.9 L1385.8,141.0 L1386.0,144.3 L1386.7,146.7 L1387.0,150.1 L1387.5,153.8 L1387.9,156.8 L1388.4,159.3 L1388.8,162.3 L1389.7,165.5 L1390.1,168.0 L1390.3,170.9 L1390.9,174.5 L1391.5,176.5 L1391.9,181.0 L1392.3,182.5 L1392.7,185.4 L1393.1,190.1 L1393.8,192.6 L1394.4,196.1 L1394.8,198.5 L1395.3,201.7 L1395.7,204.7 L1396.0,207.7 L1396.6,210.8 L1396.9,212.8 L1397.3,216.9 L1398.3,219.7 L1398.5,223.0 L1399.2,225.5 L1399.4,228.0 L1400.0,231.1 L1403.0,231.7 L1406.3,230.6 L1409.1,230.6 L1411.9,232.0 L1415.2,232.2 L1418.1,230.5 L1421.1,231.6 L1424.4,232.3 L1427.2,231.2 L1430.0,231.7 L1433.1,230.8 L1436.1,230.5 L1439.4,230.7 L1442.6,230.7 L1445.6,230.7 L1448.2,231.8 L1451.3,231.8 L1454.3,230.6 L1457.6,231.8 L1460.7,231.8 L1463.3,231.6 L1466.7,231.3 L1469.8,231.0 L1472.9,231.8 L1475.4,230.5 L1478.8,232.0 L1481.5,231.1 L1484.9,230.8 L1488.0,231.4 L1490.6,231.2 L1493.9,231.3 L1496.9,230.8 L1500.0,231.2 L1503.0,231.6 L1505.9,231.2 L1509.1,232.2 L1512.1,231.5 L1514.9,230.6 L1515.8,228.8 L1516.2,225.1 L1516.6,223.2 L1517.2,219.6 L1517.4,216.2 L1518.2,213.1 L1518.6,210.5 L1519.2,207.9 L1519.4,203.4 L1519.9,201.2 L1520.5,198.9 L1521.2,194.5 L1521.7,192.9 L1522.2,189.4 L1522.4,186.9 L1523.2,183.6 L1523.7,180.0 L1523.8,177.4 L1524.7,173.7 L1525.1,172.1 L1525.4,168.5 L1526.1,165.2 L1526.3,161.8 L1527.1,159.8 L1527.5,155.5 L1528.2,153.7 L1528.4,150.4 L1529.2,147.9 L1529.5,144.2 L1530.0,140.7 L1530.3,137.6 L1531.1,135.0 L1534.1,135.0 L1537.1,134.6 L1539.9,136.1 L1543.1,134.5 L1546.3,135.7 L1549.0,135.4 L1552.2,135.2 L1555.0,134.4 L1558.6,135.9 L1561.4,135.3 L1564.3,135.7 L1567.4,136.0 L1570.6,135.8 L1573.8,134.8 L1576.3,134.7 L1579.4,134.5 L1579.8,138.3 L1580.8,141.1 L1581.3,145.0 L1581.3,147.4 L1582.0,149.5 L1582.7,152.8 L1583.0,156.5 L1583.7,159.6 L1583.9,162.2 L1584.2,166.1 L1585.2,167.8 L1585.1,170.8 L1585.8,175.0 L1586.6,177.9 L1586.6,180.8 L1587.4,183.6 L1588.0,185.5 L1588.1,189.8 L1589.0,192.6 L1589.1,195.5 L1589.8,197.6 L1590.1,200.9 L1590.5,204.3 L1591.0,206.9 L1591.4,210.7 L1591.8,213.8 L1592.4,215.5 L1593.3,218.9 L1593.8,223.0 L1594.2,224.7 L1594.5,227.7 L1595.2,232.0 L1598.1,231.3 L1600.9,232.0 L1604.0,231.6 L1606.8,230.9 L1609.8,231.8 L1613.0,230.8 L1616.2,231.0 L1619.0,230.8 L1621.9,232.0 L1624.9,230.8 L1628.0,231.1 L1631.2,230.7 L1634.3,230.6 L1637.2,231.7 L1639.8,231.4 L1642.9,231.0 L1645.8,231.2 L1646.8,229.3 L1647.2,224.7 L1647.3,223.1 L1647.7,219.8 L1648.3,217.2 L1648.7,213.9 L1649.3,209.7 L1649.6,207.9 L1650.4,203.8 L1650.8,202.1 L1651.2,198.5 L1651.7,194.7 L1652.5,192.7 L1652.7,188.6 L1653.1,186.5 L1653.8,182.9 L1654.1,180.5 L1654.9,177.8 L1655.3,173.7 L1655.5,171.7 L1656.2,168.7 L1656.5,165.8 L1657.1,162.9 L1657.9,159.2 L1657.9,157.0 L1658.7,153.9 L1659.0,149.7 L1659.8,147.0 L1660.0,144.0 L1660.7,140.3 L1661.1,138.1 L1661.6,134.5 L1664.8,135.8 L1668.0,134.9 L1671.0,135.0 L1674.1,134.4 L1677.3,136.0 L1680.2,135.2 L1683.3,135.3 L1686.1,136.0 L1689.3,134.6 L1692.3,134.8 L1695.8,134.4 L1698.5,135.6 L1701.6,134.3 L1705.0,135.3 L1708.0,135.6 L1708.3,138.9 L1709.1,140.4 L1709.3,144.2 L1710.0,146.8 L1710.2,150.1 L1710.7,153.4 L1711.6,155.6 L1712.0,159.7 L1712.2,162.8 L1713.1,165.1 L1713.4,168.9 L1713.9,171.1 L1714.6,174.8 L1714.8,176.8 L1715.3,180.2 L1716.1,183.8 L1716.6,186.9 L1717.0,188.5 L1717.3,193.1 L1718.0,194.9 L1718.3,198.6 L1718.7,201.4 L1719.1,204.2 L1719.8,206.5 L1720.1,211.2 L1720.9,214.1 L1721.3,216.9 L1721.9,220.1 L1722.0,222.6 L1722.6,225.7 L1723.1,228.5 L1723.9,231.6 L1726.6,231.4 L1729.8,232.2 L1732.8,231.0 L1736.0,230.7 L1739.0,232.2 L1742.0,231.0 L1745.1,231.5 L1748.0,230.7 L1751.0,231.0 L1754.2,231.0 L1757.2,230.7 L1760.4,232.0 L1763.5,231.5 L1766.6,230.9 L1769.7,231.3 L1772.6,231.6 L1775.6,231.1 L1778.6,230.9 L1781.8,231.2 L1784.9,230.5 L1787.8,232.1 L1790.8,231.5 L1794.0,231.4" fill="none" stroke="#92d28c" stroke-width="8" stroke-linejoin="round"/>
<path d="M1130.0,341.9 L1154.6,341.9 L1159.4,259.0 L1190.1,259.0 L1193.9,341.9 L1222.6,341.9 L1227.4,259.0 L1254.5,259.0 L1258.5,341.9 L1319.6,341.9 L1324.4,259.0 L1348.3,259.0 L1357.6,341.9 L1384.6,341.9 L1389.4,259.0 L1416.5,259.0 L1421.2,341.9 L1486.6,341.9 L1491.4,259.0 L1517.3,259.0 L1523.3,341.9 L1548.6,341.9 L1553.4,259.0 L1580.4,259.0 L1584.3,341.9 L1648.6,341.9 L1653.4,259.0 L1675.8,259.0 L1683.9,341.9 L1708.6,341.9 L1713.4,259.0 L1740.4,259.0 L1744.5,341.9 L1793.0,341.9" fill="none" stroke="#d9a8d9" stroke-width="3" stroke-linejoin="round" opacity="0.85"/>
<path d="M1130.0,339.4 L1155.2,339.4 L1160.2,260.8 L1189.0,260.8 L1194.8,339.4 L1223.2,339.4 L1228.2,260.8 L1254.5,260.8 L1260.5,339.4 L1320.2,339.4 L1325.2,260.8 L1349.5,260.8 L1357.2,339.4 L1385.2,339.4 L1390.2,260.8 L1417.2,260.8 L1423.3,339.4 L1487.2,339.4 L1492.2,260.8 L1517.4,260.8 L1524.4,339.4 L1549.2,339.4 L1554.2,260.8 L1580.1,260.8 L1586.7,339.4 L1649.2,339.4 L1654.2,260.8 L1675.3,260.8 L1683.6,339.4 L1709.2,339.4 L1714.2,260.8 L1738.0,260.8 L1746.3,339.4 L1793.0,339.4" fill="none" stroke="#a8a8a8" stroke-width="3" stroke-linejoin="round" opacity="0.85"/>
<path d="M1130.0,343.4 L1156.5,343.4 L1162.0,262.7 L1189.4,262.7 L1194.7,343.4 L1224.5,343.4 L1230.0,262.7 L1252.8,262.7 L1260.4,343.4 L1321.5,343.4 L1327.0,262.7 L1350.1,262.7 L1356.8,343.4 L1386.5,343.4 L1392.0,262.7 L1415.6,262.7 L1422.4,343.4 L1488.5,343.4 L1494.0,262.7 L1516.9,262.7 L1524.2,343.4 L1550.5,343.4 L1556.0,262.7 L1578.4,262.7 L1585.2,343.4 L1650.5,343.4 L1656.0,262.7 L1676.2,262.7 L1682.2,343.4 L1710.5,343.4 L1716.0,262.7 L1738.5,262.7 L1746.4,343.4 L1793.0,343.4" fill="none" stroke="#b8c890" stroke-width="3" stroke-linejoin="round" opacity="0.85"/>
<path d="M1130.0,347.6 L1156.5,347.6 L1162.0,264.5 L1187.8,264.5 L1193.6,347.6 L1224.5,347.6 L1230.0,264.5 L1252.4,264.5 L1258.4,347.6 L1321.5,347.6 L1327.0,264.5 L1349.2,264.5 L1356.7,347.6 L1386.5,347.6 L1392.0,264.5 L1414.8,264.5 L1423.8,347.6 L1488.5,347.6 L1494.0,264.5 L1516.5,264.5 L1524.5,347.6 L1550.5,347.6 L1556.0,264.5 L1580.0,264.5 L1586.9,347.6 L1650.5,347.6 L1656.0,264.5 L1675.1,264.5 L1682.3,347.6 L1710.5,347.6 L1716.0,264.5 L1740.2,264.5 L1744.0,347.6 L1793.0,347.6" fill="none" stroke="#78c078" stroke-width="3" stroke-linejoin="round" opacity="0.85"/>
<path d="M1130.0,334.8 L1157.1,334.8 L1162.8,266.4 L1187.8,266.4 L1195.8,334.8 L1225.1,334.8 L1230.8,266.4 L1253.6,266.4 L1259.6,334.8 L1322.1,334.8 L1327.8,266.4 L1350.3,266.4 L1356.6,334.8 L1387.1,334.8 L1392.8,266.4 L1415.9,266.4 L1423.1,334.8 L1489.1,334.8 L1494.8,266.4 L1516.5,266.4 L1523.1,334.8 L1551.1,334.8 L1556.8,266.4 L1579.1,266.4 L1585.1,334.8 L1651.1,334.8 L1656.8,266.4 L1677.1,266.4 L1683.0,334.8 L1711.1,334.8 L1716.8,266.4 L1738.9,266.4 L1744.3,334.8 L1793.0,334.8" fill="none" stroke="#3a6cc4" stroke-width="3" stroke-linejoin="round" opacity="0.85"/>
<path d="M1130.0,340.0 L1155.6,340.0 L1160.8,268.2 L1188.5,268.2 L1194.7,340.0 L1223.6,340.0 L1228.8,268.2 L1254.4,268.2 L1260.9,340.0 L1320.6,340.0 L1325.8,268.2 L1349.3,268.2 L1356.3,340.0 L1385.6,340.0 L1390.8,268.2 L1416.7,268.2 L1424.0,340.0 L1487.6,340.0 L1492.8,268.2 L1516.8,268.2 L1523.6,340.0 L1549.6,340.0 L1554.8,268.2 L1580.2,268.2 L1584.5,340.0 L1649.6,340.0 L1654.8,268.2 L1675.8,268.2 L1683.9,340.0 L1709.6,340.0 L1714.8,268.2 L1740.3,268.2 L1745.5,340.0 L1793.0,340.0" fill="none" stroke="#5aa8d8" stroke-width="3" stroke-linejoin="round" opacity="0.85"/>
<path d="M1130.0,335.8 L1160.1,335.8 L1166.7,270.1 L1187.4,270.1 L1195.5,335.8 L1228.1,335.8 L1234.7,270.1 L1253.3,270.1 L1260.7,335.8 L1325.1,335.8 L1331.7,270.1 L1347.6,270.1 L1355.5,335.8 L1390.1,335.8 L1396.7,270.1 L1414.2,270.1 L1422.5,335.8 L1492.1,335.8 L1498.7,270.1 L1515.8,270.1 L1522.6,335.8 L1554.1,335.8 L1560.7,270.1 L1576.9,270.1 L1585.9,335.8 L1654.1,335.8 L1660.7,270.1 L1675.1,270.1 L1682.1,335.8 L1714.1,335.8 L1720.7,270.1 L1739.3,270.1 L1745.9,335.8 L1793.0,335.8" fill="none" stroke="#e89050" stroke-width="3" stroke-linejoin="round" opacity="0.85"/>
<path d="M1130.0,334.7 L1155.7,334.7 L1160.9,271.9 L1189.1,271.9 L1193.9,334.7 L1223.7,334.7 L1228.9,271.9 L1253.8,271.9 L1258.0,334.7 L1320.7,334.7 L1325.9,271.9 L1348.7,271.9 L1357.5,334.7 L1385.7,334.7 L1390.9,271.9 L1416.5,271.9 L1423.0,334.7 L1487.7,334.7 L1492.9,271.9 L1516.4,271.9 L1523.5,334.7 L1549.7,334.7 L1554.9,271.9 L1579.4,271.9 L1584.8,334.7 L1649.7,334.7 L1654.9,271.9 L1676.7,271.9 L1682.6,334.7 L1709.7,334.7 L1714.9,271.9 L1740.8,271.9 L1745.7,334.7 L1793.0,334.7" fill="none" stroke="#8a7ac8" stroke-width="3" stroke-linejoin="round" opacity="0.85"/>
<path d="M1130.0,340.6 L1153.1,340.6 L1157.5,273.8 L1188.1,273.8 L1195.3,340.6 L1221.1,340.6 L1225.5,273.8 L1253.0,273.8 L1258.3,340.6 L1318.1,340.6 L1322.5,273.8 L1349.1,273.8 L1356.6,340.6 L1383.1,340.6 L1387.5,273.8 L1418.1,273.8 L1422.8,340.6 L1485.1,340.6 L1489.5,273.8 L1519.1,273.8 L1522.2,340.6 L1547.1,340.6 L1551.5,273.8 L1578.7,273.8 L1586.3,340.6 L1647.1,340.6 L1651.5,273.8 L1676.6,273.8 L1683.1,340.6 L1707.1,340.6 L1711.5,273.8 L1739.7,273.8 L1744.5,340.6 L1793.0,340.6" fill="none" stroke="#c090c8" stroke-width="3" stroke-linejoin="round" opacity="0.85"/>
<path d="M1130.0,338.3 L1152.9,338.3 L1157.2,275.6 L1190.4,275.6 L1194.7,338.3 L1220.9,338.3 L1225.2,275.6 L1253.7,275.6 L1259.3,338.3 L1317.9,338.3 L1322.2,275.6 L1349.9,275.6 L1355.2,338.3 L1382.9,338.3 L1387.2,275.6 L1418.4,275.6 L1422.7,338.3 L1484.9,338.3 L1489.2,275.6 L1519.6,275.6 L1523.3,338.3 L1546.9,338.3 L1551.2,275.6 L1580.6,275.6 L1584.7,338.3 L1646.9,338.3 L1651.2,275.6 L1675.8,275.6 L1683.8,338.3 L1706.9,338.3 L1711.2,275.6 L1741.3,275.6 L1744.9,338.3 L1793.0,338.3" fill="none" stroke="#6a9a6a" stroke-width="3" stroke-linejoin="round" opacity="0.85"/>
<path d="M1130.0,348.4 L1159.3,348.4 L1165.8,277.5 L1186.5,277.5 L1194.8,348.4 L1227.3,348.4 L1233.8,277.5 L1253.4,277.5 L1259.5,348.4 L1324.3,348.4 L1330.8,277.5 L1349.4,277.5 L1355.7,348.4 L1389.3,348.4 L1395.8,277.5 L1414.7,277.5 L1423.2,348.4 L1491.3,348.4 L1497.8,277.5 L1515.2,277.5 L1522.9,348.4 L1553.3,348.4 L1559.8,277.5 L1579.2,277.5 L1585.5,348.4 L1653.3,348.4 L1659.8,277.5 L1675.9,277.5 L1681.7,348.4 L1713.3,348.4 L1719.8,277.5 L1737.1,277.5 L1745.1,348.4 L1793.0,348.4" fill="none" stroke="#4a58b8" stroke-width="3" stroke-linejoin="round" opacity="0.85"/>
<path d="M1130.0,337.0 L1160.7,337.0 L1167.7,279.3 L1186.0,279.3 L1194.7,337.0 L1228.7,337.0 L1235.7,279.3 L1250.4,279.3 L1259.6,337.0 L1325.7,337.0 L1332.7,279.3 L1347.2,279.3 L1356.2,337.0 L1390.7,337.0 L1397.7,279.3 L1413.3,279.3 L1421.4,337.0 L1492.7,337.0 L1499.7,279.3 L1516.6,279.3 L1523.1,337.0 L1554.7,337.0 L1561.7,279.3 L1576.8,279.3 L1584.6,337.0 L1654.7,337.0 L1661.7,279.3 L1673.9,279.3 L1681.7,337.0 L1714.7,337.0 L1721.7,279.3 L1736.2,279.3 L1746.0,337.0 L1793.0,337.0" fill="none" stroke="#999999" stroke-width="3" stroke-linejoin="round" opacity="0.85"/>
<path d="M1130.0,339.5 L1153.4,339.5 L1157.9,281.2 L1189.6,281.2 L1193.3,339.5 L1221.4,339.5 L1225.9,281.2 L1253.3,281.2 L1260.5,339.5 L1318.4,339.5 L1322.9,281.2 L1348.9,281.2 L1356.3,339.5 L1383.4,339.5 L1387.9,281.2 L1418.0,281.2 L1423.4,339.5 L1485.4,339.5 L1489.9,281.2 L1517.0,281.2 L1523.1,339.5 L1547.4,339.5 L1551.9,281.2 L1580.7,281.2 L1585.1,339.5 L1647.4,339.5 L1651.9,281.2 L1678.4,281.2 L1681.6,339.5 L1707.4,339.5 L1711.9,281.2 L1741.4,281.2 L1745.5,339.5 L1793.0,339.5" fill="none" stroke="#d8a0d0" stroke-width="3" stroke-linejoin="round" opacity="0.85"/>
<path d="M1130.0,337.6 L1156.1,337.6 L1161.4,283.0 L1187.0,283.0 L1195.1,337.6 L1224.1,337.6 L1229.4,283.0 L1252.4,283.0 L1260.7,337.6 L1321.1,337.6 L1326.4,283.0 L1349.4,283.0 L1356.1,337.6 L1386.1,337.6 L1391.4,283.0 L1415.4,283.0 L1422.8,337.6 L1488.1,337.6 L1493.4,283.0 L1516.3,283.0 L1524.6,337.6 L1550.1,337.6 L1555.4,283.0 L1578.0,283.0 L1585.5,337.6 L1650.1,337.6 L1655.4,283.0 L1676.3,283.0 L1681.8,337.6 L1710.1,337.6 L1715.4,283.0 L1740.0,283.0 L1745.2,337.6 L1793.0,337.6" fill="none" stroke="#58b0a8" stroke-width="3" stroke-linejoin="round" opacity="0.85"/>
<rect x="1569" y="281" width="91" height="38" fill="#fff"/>
<path d="M1130.0,461.2 L1157.1,461.2 L1162.8,370.0 L1188.2,370.0 L1195.2,461.2 L1387.1,461.2 L1392.8,370.0 L1416.6,370.0 L1423.5,461.2 L1489.1,461.2 L1494.8,370.0 L1517.8,370.0 L1523.0,461.2 L1711.1,461.2 L1716.8,370.0 L1740.3,370.0 L1745.3,461.2 L1793.0,461.2" fill="none" stroke="#88c878" stroke-width="3" stroke-linejoin="round" opacity="0.85"/>
<path d="M1130.0,459.9 L1155.3,459.9 L1160.3,372.2 L1189.4,372.2 L1194.9,459.9 L1385.3,459.9 L1390.3,372.2 L1417.1,372.2 L1423.9,459.9 L1487.3,459.9 L1492.3,372.2 L1516.6,372.2 L1522.4,459.9 L1709.3,459.9 L1714.3,372.2 L1741.1,372.2 L1745.8,459.9 L1793.0,459.9" fill="none" stroke="#7a58b8" stroke-width="3" stroke-linejoin="round" opacity="0.85"/>
<path d="M1130.0,457.6 L1160.2,457.6 L1166.9,374.5 L1188.6,374.5 L1196.6,457.6 L1390.2,457.6 L1396.9,374.5 L1417.9,374.5 L1423.4,457.6 L1492.2,457.6 L1498.9,374.5 L1515.1,374.5 L1522.1,457.6 L1714.2,457.6 L1720.9,374.5 L1739.3,374.5 L1747.0,457.6 L1793.0,457.6" fill="none" stroke="#2a8a8a" stroke-width="3" stroke-linejoin="round" opacity="0.85"/>
<path d="M1130.0,456.9 L1155.7,456.9 L1161.0,376.7 L1189.7,376.7 L1196.1,456.9 L1385.7,456.9 L1391.0,376.7 L1417.5,376.7 L1425.5,456.9 L1487.7,456.9 L1493.0,376.7 L1516.8,376.7 L1523.9,456.9 L1709.7,456.9 L1715.0,376.7 L1739.3,376.7 L1745.3,456.9 L1793.0,456.9" fill="none" stroke="#4a60c0" stroke-width="3" stroke-linejoin="round" opacity="0.85"/>
<path d="M1130.0,464.8 L1158.6,464.8 L1164.8,378.9 L1188.9,378.9 L1194.1,464.8 L1388.6,464.8 L1394.8,378.9 L1415.9,378.9 L1423.5,464.8 L1490.6,464.8 L1496.8,378.9 L1515.4,378.9 L1522.9,464.8 L1712.6,464.8 L1718.8,378.9 L1738.9,378.9 L1745.1,464.8 L1793.0,464.8" fill="none" stroke="#3a9a5a" stroke-width="3" stroke-linejoin="round" opacity="0.85"/>
<path d="M1130.0,456.4 L1157.7,456.4 L1163.7,381.2 L1187.6,381.2 L1196.5,456.4 L1387.7,456.4 L1393.7,381.2 L1417.8,381.2 L1425.1,456.4 L1489.7,456.4 L1495.7,381.2 L1515.8,381.2 L1523.3,456.4 L1711.7,456.4 L1717.7,381.2 L1740.1,381.2 L1746.0,456.4 L1793.0,456.4" fill="none" stroke="#58a8c8" stroke-width="3" stroke-linejoin="round" opacity="0.85"/>
<path d="M1130.0,452.0 L1159.5,452.0 L1166.0,383.4 L1188.8,383.4 L1194.9,452.0 L1389.5,452.0 L1396.0,383.4 L1415.6,383.4 L1425.6,452.0 L1491.5,452.0 L1498.0,383.4 L1516.3,383.4 L1522.1,452.0 L1713.5,452.0 L1720.0,383.4 L1738.2,383.4 L1745.3,452.0 L1793.0,452.0" fill="none" stroke="#c890c8" stroke-width="3" stroke-linejoin="round" opacity="0.85"/>
<path d="M1130.0,463.1 L1153.9,463.1 L1158.5,385.6 L1191.1,385.6 L1196.2,463.1 L1383.9,463.1 L1388.5,385.6 L1417.6,385.6 L1425.1,463.1 L1485.9,463.1 L1490.5,385.6 L1517.6,385.6 L1524.2,463.1 L1707.9,463.1 L1712.5,385.6 L1741.9,385.6 L1745.8,463.1 L1793.0,463.1" fill="none" stroke="#9a9a9a" stroke-width="3" stroke-linejoin="round" opacity="0.85"/>
<path d="M1130.0,453.3 L1160.5,453.3 L1167.4,387.8 L1187.4,387.8 L1196.8,453.3 L1390.5,453.3 L1397.4,387.8 L1417.2,387.8 L1425.2,453.3 L1492.5,453.3 L1499.4,387.8 L1516.7,387.8 L1523.9,453.3 L1714.5,453.3 L1721.4,387.8 L1738.5,387.8 L1745.2,453.3 L1793.0,453.3" fill="none" stroke="#5a48a8" stroke-width="3" stroke-linejoin="round" opacity="0.85"/>
<path d="M1130.0,461.8 L1155.9,461.8 L1161.1,390.1 L1189.3,390.1 L1196.8,461.8 L1385.9,461.8 L1391.1,390.1 L1417.1,390.1 L1425.3,461.8 L1487.9,461.8 L1493.1,390.1 L1515.8,390.1 L1524.1,461.8 L1709.9,461.8 L1715.1,390.1 L1741.1,390.1 L1745.8,461.8 L1793.0,461.8" fill="none" stroke="#d8a8d8" stroke-width="3" stroke-linejoin="round" opacity="0.85"/>
<path d="M1130.0,459.6 L1160.7,459.6 L1167.6,392.3 L1188.0,392.3 L1195.6,459.6 L1390.7,459.6 L1397.6,392.3 L1415.8,392.3 L1423.2,459.6 L1492.7,459.6 L1499.6,392.3 L1515.2,392.3 L1523.2,459.6 L1714.7,459.6 L1721.6,392.3 L1737.7,392.3 L1745.9,459.6 L1793.0,459.6" fill="none" stroke="#60b060" stroke-width="3" stroke-linejoin="round" opacity="0.85"/>
<path d="M1130.0,453.9 L1158.4,453.9 L1164.5,394.5 L1188.9,394.5 L1194.7,453.9 L1388.4,453.9 L1394.5,394.5 L1416.6,394.5 L1424.5,453.9 L1490.4,453.9 L1496.5,394.5 L1516.2,394.5 L1524.8,453.9 L1712.4,453.9 L1718.5,394.5 L1738.9,394.5 L1745.9,453.9 L1793.0,453.9" fill="none" stroke="#406ab0" stroke-width="3" stroke-linejoin="round" opacity="0.85"/>
<path d="M1130.0,464.4 L1153.3,464.4 L1157.7,396.8 L1190.3,396.8 L1195.0,464.4 L1383.3,464.4 L1387.7,396.8 L1420.0,396.8 L1424.6,464.4 L1485.3,464.4 L1489.7,396.8 L1518.9,396.8 L1522.5,464.4 L1707.3,464.4 L1711.7,396.8 L1741.6,396.8 L1746.8,464.4 L1793.0,464.4" fill="none" stroke="#8ab0b8" stroke-width="3" stroke-linejoin="round" opacity="0.85"/>
<path d="M1130.0,458.5 L1158.9,458.5 L1165.2,399.0 L1189.2,399.0 L1194.3,458.5 L1388.9,458.5 L1395.2,399.0 L1416.6,399.0 L1424.1,458.5 L1490.9,458.5 L1497.2,399.0 L1515.3,399.0 L1522.2,458.5 L1712.9,458.5 L1719.2,399.0 L1738.5,399.0 L1745.6,458.5 L1793.0,458.5" fill="none" stroke="#d0a8d0" stroke-width="3" stroke-linejoin="round" opacity="0.85"/>
<path d="M1130,438 L1150,438 M1197,447 L1212,446 L1222,447 L1228,455 L1360,455 M1130,452 L1150,452 M1197,455 L1225,455 M1228,450 L1380,450 M1425,452 L1480,452 M1523,451 L1600,450 L1660,452 M1668,440 L1704,440 M1668,448 L1704,448" fill="none" stroke="#d0b0d0" stroke-width="2.5"/>
<path d="M1130,446 L1150,446 M1197,455 L1226,455 M1668,452 L1704,452" fill="none" stroke="#68c0a8" stroke-width="2.5"/>
<rect x="1578.5" y="386" width="82.5" height="51" fill="#fff"/>
<rect x="1127" y="470" width="670" height="4.5" fill="#111"/>
<text x="1615.6" y="80.6" font-size="27.5" text-anchor="middle" font-weight="bold" fill="#000" >A</text>
<text x="1612.6" y="190.5" font-size="27.5" text-anchor="middle" font-weight="bold" fill="#000" >B</text>
<text x="1588" y="312.8" font-size="27.5" text-anchor="middle" font-weight="bold" fill="#000" >A</text>
<circle cx="1616.4" cy="303" r="9.3" fill="none" stroke="#6e6c68" stroke-width="2.2"/>
<path d="M1607,303 H1625.8 M1616.4,293.7 V312.3" stroke="#5a5a6a" stroke-width="1.8"/>
<text x="1646" y="312.8" font-size="27.5" text-anchor="middle" font-weight="bold" fill="#000" >B</text>
<text x="1605.6" y="425.7" font-size="27.5" text-anchor="middle" font-weight="bold" fill="#000" >AB</text>
<rect x="1608.2" y="397.2" width="13.8" height="3.4" fill="#000"/>
<line x1="1112" y1="29" x2="1112" y2="108" stroke="#111" stroke-width="3"/>
<path d="M1104,35 L1112,19 L1120,35 Z" fill="#111"/>
<path d="M1104,102 L1112,118 L1120,102 Z" fill="#111"/>
<text x="1054.5" y="80.7" font-size="28" text-anchor="start" font-weight="bold" fill="#000" >3 V</text>
<line x1="1112" y1="144" x2="1112" y2="222.5" stroke="#111" stroke-width="3"/>
<path d="M1104,150 L1112,134 L1120,150 Z" fill="#111"/>
<path d="M1104,216.5 L1112,232.5 L1120,216.5 Z" fill="#111"/>
<text x="1054.5" y="195.6" font-size="28" text-anchor="start" font-weight="bold" fill="#000" >3 V</text>
<line x1="1112" y1="264" x2="1112" y2="341" stroke="#111" stroke-width="3"/>
<path d="M1104,270 L1112,254 L1120,270 Z" fill="#111"/>
<path d="M1104,335 L1112,351 L1120,335 Z" fill="#111"/>
<text x="1054.5" y="309" font-size="28" text-anchor="start" font-weight="bold" fill="#000" >3 V</text>
<line x1="1112" y1="377.7" x2="1112" y2="456" stroke="#111" stroke-width="3"/>
<path d="M1104,383.7 L1112,367.7 L1120,383.7 Z" fill="#111"/>
<path d="M1104,450 L1112,466 L1120,450 Z" fill="#111"/>
<text x="1054.5" y="429.7" font-size="28" text-anchor="start" font-weight="bold" fill="#000" >3 V</text>
<text x="1126.3" y="508" font-size="31.5" text-anchor="middle" font-weight="bold" fill="#000" >0</text>
<text x="1793.5" y="508" font-size="31.5" text-anchor="middle" font-weight="bold" fill="#000" >400</text>
<text x="1453" y="531" font-size="31" text-anchor="middle" font-weight="bold" fill="#000" >Time/ms</text>
<text x="-1.2" y="580.8" font-size="41" text-anchor="start" font-weight="bold" fill="#000" >(b)</text>
<rect x="91" y="560.5" width="32" height="29" rx="6" fill="#2f62c0"/>
<text x="136" y="587.3" font-size="31.5" text-anchor="start" font-weight="bold" fill="#000" >Instruction fetch</text>
<rect x="495" y="560.5" width="32" height="29" rx="6" fill="#ef5a30"/>
<text x="542" y="587.3" font-size="31.5" text-anchor="start" font-weight="bold" fill="#000" >Data fetch</text>
<rect x="786" y="560.5" width="32" height="29" rx="6" fill="#92cf86"/>
<text x="824" y="587.3" font-size="31.5" text-anchor="start" font-weight="bold" fill="#000" >Arithmetic operation</text>
<rect x="1224" y="560.5" width="32" height="29" rx="6" fill="#d69ad0"/>
<text x="1270" y="587.3" font-size="31.5" text-anchor="start" font-weight="bold" fill="#000" >Write-back</text>
<defs><filter id="blur6" x="-5%" y="-30%" width="110%" height="160%"><feGaussianBlur stdDeviation="5"/></filter><filter id="blur1" x="0" y="0" width="100%" height="100%"><feGaussianBlur stdDeviation="1.1"/></filter><clipPath id="chipclip"><rect x="46" y="619" width="1777" height="216"/></clipPath></defs>
<rect x="36" y="612" width="1792" height="226" rx="10" fill="#8a8486" filter="url(#blur6)"/>
<g filter="url(#blur1)"><g clip-path="url(#chipclip)">
<rect x="46" y="620" width="1777" height="214" fill="#76767a"/>
<rect x="48.0" y="620" width="21.5" height="9" fill="#707074"/>
<rect x="70.5" y="620" width="22.0" height="9" fill="#a8a8ac"/>
<rect x="94.0" y="620" width="21.5" height="9" fill="#707074"/>
<rect x="116.5" y="620" width="22.0" height="9" fill="#a8a8ac"/>
<rect x="140.0" y="620" width="21.5" height="9" fill="#707074"/>
<rect x="162.5" y="620" width="22.0" height="9" fill="#a8a8ac"/>
<rect x="186.0" y="620" width="21.5" height="9" fill="#707074"/>
<rect x="208.5" y="620" width="22.0" height="9" fill="#a8a8ac"/>
<rect x="232.0" y="620" width="21.5" height="9" fill="#707074"/>
<rect x="254.5" y="620" width="22.0" height="9" fill="#a8a8ac"/>
<rect x="278.0" y="620" width="21.5" height="9" fill="#707074"/>
<rect x="300.5" y="620" width="22.0" height="9" fill="#a8a8ac"/>
<rect x="324.0" y="620" width="21.5" height="9" fill="#707074"/>
<rect x="346.5" y="620" width="22.0" height="9" fill="#a8a8ac"/>
<rect x="370.0" y="620" width="21.5" height="9" fill="#707074"/>
<rect x="392.5" y="620" width="22.0" height="9" fill="#a8a8ac"/>
<rect x="416.0" y="620" width="21.5" height="9" fill="#707074"/>
<rect x="438.5" y="620" width="22.0" height="9" fill="#a8a8ac"/>
<rect x="462.0" y="620" width="21.5" height="9" fill="#707074"/>
<rect x="484.5" y="620" width="22.0" height="9" fill="#a8a8ac"/>
<rect x="508.0" y="620" width="21.5" height="9" fill="#707074"/>
<rect x="530.5" y="620" width="22.0" height="9" fill="#a8a8ac"/>
<rect x="554.0" y="620" width="21.5" height="9" fill="#707074"/>
<rect x="576.5" y="620" width="22.0" height="9" fill="#a8a8ac"/>
<rect x="600.0" y="620" width="21.5" height="9" fill="#707074"/>
<rect x="622.5" y="620" width="22.0" height="9" fill="#a8a8ac"/>
<rect x="646.0" y="620" width="21.5" height="9" fill="#707074"/>
<rect x="668.5" y="620" width="22.0" height="9" fill="#a8a8ac"/>
<rect x="692.0" y="620" width="21.5" height="9" fill="#707074"/>
<rect x="714.5" y="620" width="22.0" height="9" fill="#a8a8ac"/>
<rect x="738.0" y="620" width="21.5" height="9" fill="#707074"/>
<rect x="760.5" y="620" width="22.0" height="9" fill="#a8a8ac"/>
<rect x="784.0" y="620" width="21.5" height="9" fill="#707074"/>
<rect x="806.5" y="620" width="22.0" height="9" fill="#a8a8ac"/>
<rect x="830.0" y="620" width="21.5" height="9" fill="#707074"/>
<rect x="852.5" y="620" width="22.0" height="9" fill="#a8a8ac"/>
<rect x="876.0" y="620" width="21.5" height="9" fill="#707074"/>
<rect x="898.5" y="620" width="22.0" height="9" fill="#a8a8ac"/>
<rect x="922.0" y="620" width="21.5" height="9" fill="#707074"/>
<rect x="944.5" y="620" width="22.0" height="9" fill="#a8a8ac"/>
<rect x="968.0" y="620" width="21.5" height="9" fill="#707074"/>
<rect x="990.5" y="620" width="22.0" height="9" fill="#a8a8ac"/>
<rect x="1014.0" y="620" width="21.5" height="9" fill="#707074"/>
<rect x="1036.5" y="620" width="22.0" height="9" fill="#a8a8ac"/>
<rect x="1060.0" y="620" width="21.5" height="9" fill="#707074"/>
<rect x="1082.5" y="620" width="22.0" height="9" fill="#a8a8ac"/>
<rect x="1106.0" y="620" width="21.5" height="9" fill="#707074"/>
<rect x="1128.5" y="620" width="22.0" height="9" fill="#a8a8ac"/>
<rect x="1152.0" y="620" width="21.5" height="9" fill="#707074"/>
<rect x="1174.5" y="620" width="22.0" height="9" fill="#a8a8ac"/>
<rect x="1198.0" y="620" width="21.5" height="9" fill="#707074"/>
<rect x="1220.5" y="620" width="22.0" height="9" fill="#a8a8ac"/>
<rect x="1244.0" y="620" width="21.5" height="9" fill="#707074"/>
<rect x="1266.5" y="620" width="22.0" height="9" fill="#a8a8ac"/>
<rect x="1290.0" y="620" width="21.5" height="9" fill="#707074"/>
<rect x="1312.5" y="620" width="22.0" height="9" fill="#a8a8ac"/>
<rect x="1336.0" y="620" width="21.5" height="9" fill="#707074"/>
<rect x="1358.5" y="620" width="22.0" height="9" fill="#a8a8ac"/>
<rect x="1382.0" y="620" width="21.5" height="9" fill="#707074"/>
<rect x="1404.5" y="620" width="22.0" height="9" fill="#a8a8ac"/>
<rect x="1428.0" y="620" width="21.5" height="9" fill="#707074"/>
<rect x="1450.5" y="620" width="22.0" height="9" fill="#a8a8ac"/>
<rect x="1474.0" y="620" width="21.5" height="9" fill="#707074"/>
<rect x="1496.5" y="620" width="22.0" height="9" fill="#a8a8ac"/>
<rect x="1520.0" y="620" width="21.5" height="9" fill="#707074"/>
<rect x="1542.5" y="620" width="22.0" height="9" fill="#a8a8ac"/>
<rect x="1566.0" y="620" width="21.5" height="9" fill="#707074"/>
<rect x="1588.5" y="620" width="22.0" height="9" fill="#a8a8ac"/>
<rect x="1612.0" y="620" width="21.5" height="9" fill="#707074"/>
<rect x="1634.5" y="620" width="22.0" height="9" fill="#a8a8ac"/>
<rect x="1658.0" y="620" width="21.5" height="9" fill="#707074"/>
<rect x="1680.5" y="620" width="22.0" height="9" fill="#a8a8ac"/>
<rect x="1704.0" y="620" width="21.5" height="9" fill="#707074"/>
<rect x="1726.5" y="620" width="22.0" height="9" fill="#a8a8ac"/>
<rect x="1750.0" y="620" width="21.5" height="9" fill="#707074"/>
<rect x="1772.5" y="620" width="22.0" height="9" fill="#a8a8ac"/>
<rect x="1796.0" y="620" width="21.5" height="9" fill="#707074"/>
<rect x="1818.5" y="620" width="3.5" height="9" fill="#a8a8ac"/>
<rect x="48.0" y="637.5" width="21.5" height="24" fill="#5a5a5f"/>
<rect x="70.5" y="637.5" width="22.0" height="24" fill="#d3d4d9"/>
<rect x="94.0" y="637.5" width="21.5" height="24" fill="#5a5a5f"/>
<rect x="116.5" y="637.5" width="22.0" height="24" fill="#d3d4d9"/>
<rect x="140.0" y="637.5" width="21.5" height="24" fill="#5a5a5f"/>
<rect x="162.5" y="637.5" width="22.0" height="24" fill="#d3d4d9"/>
<rect x="186.0" y="637.5" width="21.5" height="24" fill="#5a5a5f"/>
<rect x="208.5" y="637.5" width="22.0" height="24" fill="#d3d4d9"/>
<rect x="232.0" y="637.5" width="21.5" height="24" fill="#5a5a5f"/>
<rect x="254.5" y="637.5" width="22.0" height="24" fill="#d3d4d9"/>
<rect x="278.0" y="637.5" width="21.5" height="24" fill="#5a5a5f"/>
<rect x="300.5" y="637.5" width="22.0" height="24" fill="#d3d4d9"/>
<rect x="324.0" y="637.5" width="21.5" height="24" fill="#5a5a5f"/>
<rect x="346.5" y="637.5" width="22.0" height="24" fill="#d3d4d9"/>
<rect x="370.0" y="637.5" width="21.5" height="24" fill="#5a5a5f"/>
<rect x="392.5" y="637.5" width="22.0" height="24" fill="#d3d4d9"/>
<rect x="416.0" y="637.5" width="21.5" height="24" fill="#5a5a5f"/>
<rect x="438.5" y="637.5" width="22.0" height="24" fill="#d3d4d9"/>
<rect x="462.0" y="637.5" width="21.5" height="24" fill="#5a5a5f"/>
<rect x="484.5" y="637.5" width="22.0" height="24" fill="#d3d4d9"/>
<rect x="508.0" y="637.5" width="21.5" height="24" fill="#5a5a5f"/>
<rect x="530.5" y="637.5" width="22.0" height="24" fill="#d3d4d9"/>
<rect x="554.0" y="637.5" width="21.5" height="24" fill="#5a5a5f"/>
<rect x="576.5" y="637.5" width="22.0" height="24" fill="#d3d4d9"/>
<rect x="600.0" y="637.5" width="21.5" height="24" fill="#5a5a5f"/>
<rect x="622.5" y="637.5" width="22.0" height="24" fill="#d3d4d9"/>
<rect x="646.0" y="637.5" width="21.5" height="24" fill="#5a5a5f"/>
<rect x="668.5" y="637.5" width="22.0" height="24" fill="#d3d4d9"/>
<rect x="692.0" y="637.5" width="21.5" height="24" fill="#5a5a5f"/>
<rect x="714.5" y="637.5" width="22.0" height="24" fill="#d3d4d9"/>
<rect x="738.0" y="637.5" width="21.5" height="24" fill="#5a5a5f"/>
<rect x="760.5" y="637.5" width="22.0" height="24" fill="#d3d4d9"/>
<rect x="784.0" y="637.5" width="19.0" height="24" fill="#5a5a5f"/>
<rect x="47" y="663" width="756" height="37.5" fill="#a8a8ad"/>
<rect x="47" y="663" width="756" height="7.5" fill="#bdbdc2"/>
<rect x="47" y="690.5" width="756" height="9" fill="#b8b8bd"/>
<rect x="47" y="695.0" width="756" height="1.2" fill="#8c8c90"/>
<rect x="47.0" y="671.5" width="35.3" height="18.5" fill="#606065"/>
<rect x="83.8" y="671.5" width="44.5" height="18.5" fill="#606065"/>
<rect x="82.3" y="670" width="2" height="28.5" fill="#a8a8ac"/>
<rect x="81.3" y="693.0" width="4" height="3.5" fill="#505054"/>
<rect x="129.8" y="671.5" width="44.5" height="18.5" fill="#606065"/>
<rect x="128.3" y="670" width="2" height="28.5" fill="#a8a8ac"/>
<rect x="127.3" y="693.0" width="4" height="3.5" fill="#505054"/>
<rect x="175.8" y="671.5" width="44.5" height="18.5" fill="#606065"/>
<rect x="174.3" y="670" width="2" height="28.5" fill="#a8a8ac"/>
<rect x="173.3" y="693.0" width="4" height="3.5" fill="#505054"/>
<rect x="221.8" y="671.5" width="44.5" height="18.5" fill="#a0a0a4"/>
<rect x="226.8" y="673.4" width="19.8" height="3.5" fill="#cacace"/>
<rect x="227.0" y="677.6" width="23.8" height="3.5" fill="#cacace"/>
<rect x="223.0" y="682.3" width="18.2" height="3.5" fill="#cacace"/>
<rect x="250.1" y="672" width="4" height="4" fill="#4a4a4e"/>
<rect x="220.3" y="670" width="2" height="28.5" fill="#a8a8ac"/>
<rect x="219.3" y="693.0" width="4" height="3.5" fill="#505054"/>
<rect x="267.8" y="671.5" width="44.5" height="18.5" fill="#a0a0a4"/>
<rect x="269.1" y="673.5" width="29.5" height="3.5" fill="#cacace"/>
<rect x="273.9" y="679.0" width="19.7" height="3.5" fill="#cacace"/>
<rect x="272.6" y="683.0" width="21.0" height="3.5" fill="#cacace"/>
<rect x="286.2" y="672" width="4" height="4" fill="#4a4a4e"/>
<rect x="266.3" y="670" width="2" height="28.5" fill="#a8a8ac"/>
<rect x="265.3" y="693.0" width="4" height="3.5" fill="#505054"/>
<rect x="313.8" y="671.5" width="44.5" height="18.5" fill="#606065"/>
<rect x="312.3" y="670" width="2" height="28.5" fill="#a8a8ac"/>
<rect x="311.3" y="693.0" width="4" height="3.5" fill="#505054"/>
<rect x="359.8" y="671.5" width="44.5" height="18.5" fill="#a0a0a4"/>
<rect x="369.5" y="672.0" width="28.3" height="3.5" fill="#cacace"/>
<rect x="369.7" y="678.3" width="28.4" height="3.5" fill="#cacace"/>
<rect x="362.8" y="682.5" width="20.2" height="3.5" fill="#cacace"/>
<rect x="366.9" y="672" width="4" height="4" fill="#4a4a4e"/>
<rect x="358.3" y="670" width="2" height="28.5" fill="#a8a8ac"/>
<rect x="357.3" y="693.0" width="4" height="3.5" fill="#505054"/>
<rect x="405.8" y="671.5" width="44.5" height="18.5" fill="#a0a0a4"/>
<rect x="414.7" y="673.5" width="22.7" height="3.5" fill="#cacace"/>
<rect x="412.7" y="677.4" width="31.5" height="3.5" fill="#cacace"/>
<rect x="408.0" y="683.9" width="30.6" height="3.5" fill="#cacace"/>
<rect x="430.6" y="672" width="4" height="4" fill="#4a4a4e"/>
<rect x="404.3" y="670" width="2" height="28.5" fill="#a8a8ac"/>
<rect x="403.3" y="693.0" width="4" height="3.5" fill="#505054"/>
<rect x="451.8" y="671.5" width="44.5" height="18.5" fill="#606065"/>
<rect x="450.3" y="670" width="2" height="28.5" fill="#a8a8ac"/>
<rect x="449.3" y="693.0" width="4" height="3.5" fill="#505054"/>
<rect x="497.8" y="671.5" width="44.5" height="18.5" fill="#606065"/>
<rect x="496.3" y="670" width="2" height="28.5" fill="#a8a8ac"/>
<rect x="495.3" y="693.0" width="4" height="3.5" fill="#505054"/>
<rect x="543.8" y="671.5" width="44.5" height="18.5" fill="#a0a0a4"/>
<rect x="547.6" y="673.5" width="21.0" height="3.5" fill="#cacace"/>
<rect x="547.5" y="678.7" width="23.9" height="3.5" fill="#cacace"/>
<rect x="548.0" y="683.1" width="31.3" height="3.5" fill="#cacace"/>
<rect x="555.6" y="672" width="4" height="4" fill="#4a4a4e"/>
<rect x="542.3" y="670" width="2" height="28.5" fill="#a8a8ac"/>
<rect x="541.3" y="693.0" width="4" height="3.5" fill="#505054"/>
<rect x="589.8" y="671.5" width="44.5" height="18.5" fill="#606065"/>
<rect x="588.3" y="670" width="2" height="28.5" fill="#a8a8ac"/>
<rect x="587.3" y="693.0" width="4" height="3.5" fill="#505054"/>
<rect x="635.8" y="671.5" width="44.5" height="18.5" fill="#606065"/>
<rect x="634.3" y="670" width="2" height="28.5" fill="#a8a8ac"/>
<rect x="633.3" y="693.0" width="4" height="3.5" fill="#505054"/>
<rect x="681.8" y="671.5" width="44.5" height="18.5" fill="#a0a0a4"/>
<rect x="688.0" y="672.1" width="28.1" height="3.5" fill="#cacace"/>
<rect x="689.4" y="678.6" width="32.5" height="3.5" fill="#cacace"/>
<rect x="687.2" y="683.9" width="26.0" height="3.5" fill="#cacace"/>
<rect x="691.8" y="672" width="4" height="4" fill="#4a4a4e"/>
<rect x="680.3" y="670" width="2" height="28.5" fill="#a8a8ac"/>
<rect x="679.3" y="693.0" width="4" height="3.5" fill="#505054"/>
<rect x="727.8" y="671.5" width="44.5" height="18.5" fill="#606065"/>
<rect x="726.3" y="670" width="2" height="28.5" fill="#a8a8ac"/>
<rect x="725.3" y="693.0" width="4" height="3.5" fill="#505054"/>
<rect x="773.8" y="671.5" width="29.2" height="18.5" fill="#606065"/>
<rect x="772.3" y="670" width="2" height="28.5" fill="#a8a8ac"/>
<rect x="771.3" y="693.0" width="4" height="3.5" fill="#505054"/>
<rect x="47.0" y="701.5" width="1.5" height="22.5" fill="#d3d4d9"/>
<rect x="50.0" y="701.5" width="21.5" height="22.5" fill="#5a5a5f"/>
<rect x="72.5" y="701.5" width="22.0" height="22.5" fill="#d3d4d9"/>
<rect x="96.0" y="701.5" width="21.5" height="22.5" fill="#5a5a5f"/>
<rect x="118.5" y="701.5" width="22.0" height="22.5" fill="#d3d4d9"/>
<rect x="142.0" y="701.5" width="21.5" height="22.5" fill="#5a5a5f"/>
<rect x="164.5" y="701.5" width="22.0" height="22.5" fill="#d3d4d9"/>
<rect x="188.0" y="701.5" width="21.5" height="22.5" fill="#5a5a5f"/>
<rect x="210.5" y="701.5" width="22.0" height="22.5" fill="#d3d4d9"/>
<rect x="234.0" y="701.5" width="21.5" height="22.5" fill="#5a5a5f"/>
<rect x="256.5" y="701.5" width="22.0" height="22.5" fill="#d3d4d9"/>
<rect x="280.0" y="701.5" width="21.5" height="22.5" fill="#5a5a5f"/>
<rect x="302.5" y="701.5" width="22.0" height="22.5" fill="#d3d4d9"/>
<rect x="326.0" y="701.5" width="21.5" height="22.5" fill="#5a5a5f"/>
<rect x="348.5" y="701.5" width="22.0" height="22.5" fill="#d3d4d9"/>
<rect x="372.0" y="701.5" width="21.5" height="22.5" fill="#5a5a5f"/>
<rect x="394.5" y="701.5" width="22.0" height="22.5" fill="#d3d4d9"/>
<rect x="418.0" y="701.5" width="21.5" height="22.5" fill="#5a5a5f"/>
<rect x="440.5" y="701.5" width="22.0" height="22.5" fill="#d3d4d9"/>
<rect x="464.0" y="701.5" width="21.5" height="22.5" fill="#5a5a5f"/>
<rect x="486.5" y="701.5" width="22.0" height="22.5" fill="#d3d4d9"/>
<rect x="510.0" y="701.5" width="21.5" height="22.5" fill="#5a5a5f"/>
<rect x="532.5" y="701.5" width="22.0" height="22.5" fill="#d3d4d9"/>
<rect x="556.0" y="701.5" width="21.5" height="22.5" fill="#5a5a5f"/>
<rect x="578.5" y="701.5" width="22.0" height="22.5" fill="#d3d4d9"/>
<rect x="602.0" y="701.5" width="21.5" height="22.5" fill="#5a5a5f"/>
<rect x="624.5" y="701.5" width="22.0" height="22.5" fill="#d3d4d9"/>
<rect x="648.0" y="701.5" width="21.5" height="22.5" fill="#5a5a5f"/>
<rect x="670.5" y="701.5" width="22.0" height="22.5" fill="#d3d4d9"/>
<rect x="694.0" y="701.5" width="21.5" height="22.5" fill="#5a5a5f"/>
<rect x="716.5" y="701.5" width="22.0" height="22.5" fill="#d3d4d9"/>
<rect x="740.0" y="701.5" width="21.5" height="22.5" fill="#5a5a5f"/>
<rect x="762.5" y="701.5" width="22.0" height="22.5" fill="#d3d4d9"/>
<rect x="786.0" y="701.5" width="17.0" height="22.5" fill="#5a5a5f"/>
<rect x="48.5" y="736" width="21.5" height="15.5" fill="#5a5a5f"/>
<rect x="71.0" y="736" width="22.0" height="15.5" fill="#d3d4d9"/>
<rect x="94.5" y="736" width="21.5" height="15.5" fill="#5a5a5f"/>
<rect x="117.0" y="736" width="22.0" height="15.5" fill="#d3d4d9"/>
<rect x="140.5" y="736" width="21.5" height="15.5" fill="#5a5a5f"/>
<rect x="163.0" y="736" width="22.0" height="15.5" fill="#d3d4d9"/>
<rect x="186.5" y="736" width="21.5" height="15.5" fill="#5a5a5f"/>
<rect x="209.0" y="736" width="22.0" height="15.5" fill="#d3d4d9"/>
<rect x="232.5" y="736" width="21.5" height="15.5" fill="#5a5a5f"/>
<rect x="255.0" y="736" width="22.0" height="15.5" fill="#d3d4d9"/>
<rect x="278.5" y="736" width="21.5" height="15.5" fill="#5a5a5f"/>
<rect x="301.0" y="736" width="22.0" height="15.5" fill="#d3d4d9"/>
<rect x="324.5" y="736" width="21.5" height="15.5" fill="#5a5a5f"/>
<rect x="347.0" y="736" width="22.0" height="15.5" fill="#d3d4d9"/>
<rect x="370.5" y="736" width="21.5" height="15.5" fill="#5a5a5f"/>
<rect x="393.0" y="736" width="22.0" height="15.5" fill="#d3d4d9"/>
<rect x="416.5" y="736" width="21.5" height="15.5" fill="#5a5a5f"/>
<rect x="439.0" y="736" width="22.0" height="15.5" fill="#d3d4d9"/>
<rect x="462.5" y="736" width="21.5" height="15.5" fill="#5a5a5f"/>
<rect x="485.0" y="736" width="22.0" height="15.5" fill="#d3d4d9"/>
<rect x="508.5" y="736" width="21.5" height="15.5" fill="#5a5a5f"/>
<rect x="531.0" y="736" width="22.0" height="15.5" fill="#d3d4d9"/>
<rect x="554.5" y="736" width="21.5" height="15.5" fill="#5a5a5f"/>
<rect x="577.0" y="736" width="22.0" height="15.5" fill="#d3d4d9"/>
<rect x="600.5" y="736" width="21.5" height="15.5" fill="#5a5a5f"/>
<rect x="623.0" y="736" width="22.0" height="15.5" fill="#d3d4d9"/>
<rect x="646.5" y="736" width="21.5" height="15.5" fill="#5a5a5f"/>
<rect x="669.0" y="736" width="22.0" height="15.5" fill="#d3d4d9"/>
<rect x="692.5" y="736" width="21.5" height="15.5" fill="#5a5a5f"/>
<rect x="715.0" y="736" width="22.0" height="15.5" fill="#d3d4d9"/>
<rect x="738.5" y="736" width="21.5" height="15.5" fill="#5a5a5f"/>
<rect x="761.0" y="736" width="22.0" height="15.5" fill="#d3d4d9"/>
<rect x="784.5" y="736" width="18.5" height="15.5" fill="#5a5a5f"/>
<rect x="803.0" y="633" width="4.8" height="24" fill="#5a5a5f"/>
<rect x="808.0" y="633" width="23.0" height="24" fill="#d3d4d9"/>
<rect x="832.5" y="633" width="21.5" height="24" fill="#5a5a5f"/>
<rect x="854.2" y="633" width="23.0" height="24" fill="#d3d4d9"/>
<rect x="878.7" y="633" width="21.5" height="24" fill="#5a5a5f"/>
<rect x="900.4" y="633" width="23.0" height="24" fill="#d3d4d9"/>
<rect x="924.9" y="633" width="21.5" height="24" fill="#5a5a5f"/>
<rect x="946.6" y="633" width="23.0" height="24" fill="#d3d4d9"/>
<rect x="971.1" y="633" width="21.5" height="24" fill="#5a5a5f"/>
<rect x="992.8" y="633" width="23.0" height="24" fill="#d3d4d9"/>
<rect x="1017.3" y="633" width="21.5" height="24" fill="#5a5a5f"/>
<rect x="1039.0" y="633" width="23.0" height="24" fill="#d3d4d9"/>
<rect x="1063.5" y="633" width="21.5" height="24" fill="#5a5a5f"/>
<rect x="1085.2" y="633" width="23.0" height="24" fill="#d3d4d9"/>
<rect x="1109.7" y="633" width="21.5" height="24" fill="#5a5a5f"/>
<rect x="1131.4" y="633" width="23.0" height="24" fill="#d3d4d9"/>
<rect x="1155.9" y="633" width="21.5" height="24" fill="#5a5a5f"/>
<rect x="1177.6" y="633" width="23.0" height="24" fill="#d3d4d9"/>
<rect x="1202.1" y="633" width="21.5" height="24" fill="#5a5a5f"/>
<rect x="1223.8" y="633" width="23.0" height="24" fill="#d3d4d9"/>
<rect x="1248.3" y="633" width="21.5" height="24" fill="#5a5a5f"/>
<rect x="1270.0" y="633" width="23.0" height="24" fill="#d3d4d9"/>
<rect x="1294.5" y="633" width="21.5" height="24" fill="#5a5a5f"/>
<rect x="1316.2" y="633" width="23.0" height="24" fill="#d3d4d9"/>
<rect x="1340.7" y="633" width="21.5" height="24" fill="#5a5a5f"/>
<rect x="1362.4" y="633" width="23.0" height="24" fill="#d3d4d9"/>
<rect x="1386.9" y="633" width="21.5" height="24" fill="#5a5a5f"/>
<rect x="1408.6" y="633" width="23.0" height="24" fill="#d3d4d9"/>
<rect x="1433.1" y="633" width="21.5" height="24" fill="#5a5a5f"/>
<rect x="1454.8" y="633" width="23.0" height="24" fill="#d3d4d9"/>
<rect x="1479.3" y="633" width="21.5" height="24" fill="#5a5a5f"/>
<rect x="1501.0" y="633" width="23.0" height="24" fill="#d3d4d9"/>
<rect x="1525.5" y="633" width="21.5" height="24" fill="#5a5a5f"/>
<rect x="1547.2" y="633" width="23.0" height="24" fill="#d3d4d9"/>
<rect x="1571.7" y="633" width="21.5" height="24" fill="#5a5a5f"/>
<rect x="1593.4" y="633" width="23.0" height="24" fill="#d3d4d9"/>
<rect x="1617.9" y="633" width="21.5" height="24" fill="#5a5a5f"/>
<rect x="1639.6" y="633" width="23.0" height="24" fill="#d3d4d9"/>
<rect x="1664.1" y="633" width="21.5" height="24" fill="#5a5a5f"/>
<rect x="1685.8" y="633" width="23.0" height="24" fill="#d3d4d9"/>
<rect x="1710.3" y="633" width="21.5" height="24" fill="#5a5a5f"/>
<rect x="1732.0" y="633" width="23.0" height="24" fill="#d3d4d9"/>
<rect x="1756.5" y="633" width="21.5" height="24" fill="#5a5a5f"/>
<rect x="1778.2" y="633" width="23.0" height="24" fill="#d3d4d9"/>
<rect x="1802.7" y="633" width="19.3" height="24" fill="#5a5a5f"/>
<rect x="803" y="658.5" width="1019" height="37.5" fill="#a8a8ad"/>
<rect x="803" y="658.5" width="1019" height="7.5" fill="#bdbdc2"/>
<rect x="803" y="686" width="1019" height="9" fill="#b8b8bd"/>
<rect x="803" y="690.5" width="1019" height="1.2" fill="#8c8c90"/>
<rect x="803.0" y="667.0" width="28.0" height="18.5" fill="#a0a0a4"/>
<rect x="803.0" y="668.1" width="19.3" height="3.5" fill="#cacace"/>
<rect x="803.0" y="673.9" width="25.1" height="3.5" fill="#cacace"/>
<rect x="803.0" y="679.4" width="18.6" height="3.5" fill="#cacace"/>
<rect x="802.5" y="667.5" width="4" height="4" fill="#4a4a4e"/>
<rect x="832.5" y="667.0" width="44.7" height="18.5" fill="#a0a0a4"/>
<rect x="840.2" y="667.9" width="18.0" height="3.5" fill="#cacace"/>
<rect x="841.6" y="674.2" width="30.6" height="3.5" fill="#cacace"/>
<rect x="835.8" y="678.4" width="28.6" height="3.5" fill="#cacace"/>
<rect x="850.3" y="667.5" width="4" height="4" fill="#4a4a4e"/>
<rect x="831.0" y="665.5" width="2" height="28.5" fill="#a8a8ac"/>
<rect x="830.0" y="688.5" width="4" height="3.5" fill="#505054"/>
<rect x="878.7" y="667.0" width="44.7" height="18.5" fill="#606065"/>
<rect x="877.2" y="665.5" width="2" height="28.5" fill="#a8a8ac"/>
<rect x="876.2" y="688.5" width="4" height="3.5" fill="#505054"/>
<rect x="924.9" y="667.0" width="44.7" height="18.5" fill="#a0a0a4"/>
<rect x="928.8" y="668.3" width="25.0" height="3.5" fill="#cacace"/>
<rect x="933.7" y="673.8" width="32.5" height="3.5" fill="#cacace"/>
<rect x="928.4" y="677.8" width="25.1" height="3.5" fill="#cacace"/>
<rect x="943.8" y="667.5" width="4" height="4" fill="#4a4a4e"/>
<rect x="923.4" y="665.5" width="2" height="28.5" fill="#a8a8ac"/>
<rect x="922.4" y="688.5" width="4" height="3.5" fill="#505054"/>
<rect x="971.1" y="667.0" width="44.7" height="18.5" fill="#a0a0a4"/>
<rect x="973.6" y="668.2" width="19.4" height="3.5" fill="#cacace"/>
<rect x="976.2" y="673.1" width="33.5" height="3.5" fill="#cacace"/>
<rect x="980.3" y="679.3" width="33.6" height="3.5" fill="#cacace"/>
<rect x="998.8" y="667.5" width="4" height="4" fill="#4a4a4e"/>
<rect x="969.6" y="665.5" width="2" height="28.5" fill="#a8a8ac"/>
<rect x="968.6" y="688.5" width="4" height="3.5" fill="#505054"/>
<rect x="1017.3" y="667.0" width="44.7" height="18.5" fill="#a0a0a4"/>
<rect x="1025.9" y="668.7" width="19.0" height="3.5" fill="#cacace"/>
<rect x="1023.9" y="673.9" width="22.8" height="3.5" fill="#cacace"/>
<rect x="1027.3" y="678.6" width="25.7" height="3.5" fill="#cacace"/>
<rect x="1038.0" y="667.5" width="4" height="4" fill="#4a4a4e"/>
<rect x="1015.8" y="665.5" width="2" height="28.5" fill="#a8a8ac"/>
<rect x="1014.8" y="688.5" width="4" height="3.5" fill="#505054"/>
<rect x="1063.5" y="667.0" width="44.7" height="18.5" fill="#a0a0a4"/>
<rect x="1067.4" y="668.1" width="32.2" height="3.5" fill="#cacace"/>
<rect x="1065.9" y="672.6" width="28.9" height="3.5" fill="#cacace"/>
<rect x="1064.9" y="678.4" width="28.6" height="3.5" fill="#cacace"/>
<rect x="1078.2" y="667.5" width="4" height="4" fill="#4a4a4e"/>
<rect x="1062.0" y="665.5" width="2" height="28.5" fill="#a8a8ac"/>
<rect x="1061.0" y="688.5" width="4" height="3.5" fill="#505054"/>
<rect x="1109.7" y="667.0" width="44.7" height="18.5" fill="#a0a0a4"/>
<rect x="1114.4" y="668.7" width="26.5" height="3.5" fill="#cacace"/>
<rect x="1114.2" y="673.6" width="19.8" height="3.5" fill="#cacace"/>
<rect x="1119.1" y="677.9" width="26.8" height="3.5" fill="#cacace"/>
<rect x="1118.7" y="667.5" width="4" height="4" fill="#4a4a4e"/>
<rect x="1108.2" y="665.5" width="2" height="28.5" fill="#a8a8ac"/>
<rect x="1107.2" y="688.5" width="4" height="3.5" fill="#505054"/>
<rect x="1155.9" y="667.0" width="44.7" height="18.5" fill="#a0a0a4"/>
<rect x="1158.9" y="669.2" width="19.5" height="3.5" fill="#cacace"/>
<rect x="1158.9" y="673.6" width="25.8" height="3.5" fill="#cacace"/>
<rect x="1158.7" y="678.6" width="27.2" height="3.5" fill="#cacace"/>
<rect x="1164.9" y="667.5" width="4" height="4" fill="#4a4a4e"/>
<rect x="1154.4" y="665.5" width="2" height="28.5" fill="#a8a8ac"/>
<rect x="1153.4" y="688.5" width="4" height="3.5" fill="#505054"/>
<rect x="1202.1" y="667.0" width="44.7" height="18.5" fill="#a0a0a4"/>
<rect x="1208.5" y="668.5" width="19.3" height="3.5" fill="#cacace"/>
<rect x="1203.3" y="673.3" width="25.0" height="3.5" fill="#cacace"/>
<rect x="1208.1" y="679.2" width="29.4" height="3.5" fill="#cacace"/>
<rect x="1225.3" y="667.5" width="4" height="4" fill="#4a4a4e"/>
<rect x="1200.6" y="665.5" width="2" height="28.5" fill="#a8a8ac"/>
<rect x="1199.6" y="688.5" width="4" height="3.5" fill="#505054"/>
<rect x="1248.3" y="667.0" width="44.7" height="18.5" fill="#606065"/>
<rect x="1246.8" y="665.5" width="2" height="28.5" fill="#a8a8ac"/>
<rect x="1245.8" y="688.5" width="4" height="3.5" fill="#505054"/>
<rect x="1294.5" y="667.0" width="44.7" height="18.5" fill="#a0a0a4"/>
<rect x="1304.9" y="667.7" width="29.5" height="3.5" fill="#cacace"/>
<rect x="1303.3" y="672.7" width="24.3" height="3.5" fill="#cacace"/>
<rect x="1304.6" y="677.8" width="27.0" height="3.5" fill="#cacace"/>
<rect x="1318.0" y="667.5" width="4" height="4" fill="#4a4a4e"/>
<rect x="1293.0" y="665.5" width="2" height="28.5" fill="#a8a8ac"/>
<rect x="1292.0" y="688.5" width="4" height="3.5" fill="#505054"/>
<rect x="1340.7" y="667.0" width="44.7" height="18.5" fill="#a0a0a4"/>
<rect x="1349.0" y="667.8" width="18.9" height="3.5" fill="#cacace"/>
<rect x="1344.9" y="673.0" width="18.2" height="3.5" fill="#cacace"/>
<rect x="1343.3" y="678.7" width="22.8" height="3.5" fill="#cacace"/>
<rect x="1362.8" y="667.5" width="4" height="4" fill="#4a4a4e"/>
<rect x="1339.2" y="665.5" width="2" height="28.5" fill="#a8a8ac"/>
<rect x="1338.2" y="688.5" width="4" height="3.5" fill="#505054"/>
<rect x="1386.9" y="667.0" width="44.7" height="18.5" fill="#a0a0a4"/>
<rect x="1396.3" y="668.4" width="27.9" height="3.5" fill="#cacace"/>
<rect x="1393.0" y="674.2" width="32.7" height="3.5" fill="#cacace"/>
<rect x="1389.1" y="679.2" width="29.9" height="3.5" fill="#cacace"/>
<rect x="1400.9" y="667.5" width="4" height="4" fill="#4a4a4e"/>
<rect x="1385.4" y="665.5" width="2" height="28.5" fill="#a8a8ac"/>
<rect x="1384.4" y="688.5" width="4" height="3.5" fill="#505054"/>
<rect x="1433.1" y="667.0" width="44.7" height="18.5" fill="#606065"/>
<rect x="1431.6" y="665.5" width="2" height="28.5" fill="#a8a8ac"/>
<rect x="1430.6" y="688.5" width="4" height="3.5" fill="#505054"/>
<rect x="1479.3" y="667.0" width="44.7" height="18.5" fill="#606065"/>
<rect x="1477.8" y="665.5" width="2" height="28.5" fill="#a8a8ac"/>
<rect x="1476.8" y="688.5" width="4" height="3.5" fill="#505054"/>
<rect x="1525.5" y="667.0" width="44.7" height="18.5" fill="#606065"/>
<rect x="1524.0" y="665.5" width="2" height="28.5" fill="#a8a8ac"/>
<rect x="1523.0" y="688.5" width="4" height="3.5" fill="#505054"/>
<rect x="1571.7" y="667.0" width="44.7" height="18.5" fill="#a0a0a4"/>
<rect x="1579.0" y="669.0" width="31.2" height="3.5" fill="#cacace"/>
<rect x="1575.9" y="672.7" width="29.8" height="3.5" fill="#cacace"/>
<rect x="1579.4" y="679.4" width="18.7" height="3.5" fill="#cacace"/>
<rect x="1591.5" y="667.5" width="4" height="4" fill="#4a4a4e"/>
<rect x="1570.2" y="665.5" width="2" height="28.5" fill="#a8a8ac"/>
<rect x="1569.2" y="688.5" width="4" height="3.5" fill="#505054"/>
<rect x="1617.9" y="667.0" width="44.7" height="18.5" fill="#a0a0a4"/>
<rect x="1623.9" y="667.7" width="30.8" height="3.5" fill="#cacace"/>
<rect x="1627.7" y="672.7" width="28.8" height="3.5" fill="#cacace"/>
<rect x="1620.3" y="678.0" width="25.1" height="3.5" fill="#cacace"/>
<rect x="1642.8" y="667.5" width="4" height="4" fill="#4a4a4e"/>
<rect x="1616.4" y="665.5" width="2" height="28.5" fill="#a8a8ac"/>
<rect x="1615.4" y="688.5" width="4" height="3.5" fill="#505054"/>
<rect x="1664.1" y="667.0" width="44.7" height="18.5" fill="#606065"/>
<rect x="1662.6" y="665.5" width="2" height="28.5" fill="#a8a8ac"/>
<rect x="1661.6" y="688.5" width="4" height="3.5" fill="#505054"/>
<rect x="1710.3" y="667.0" width="44.7" height="18.5" fill="#a0a0a4"/>
<rect x="1711.9" y="668.7" width="18.3" height="3.5" fill="#cacace"/>
<rect x="1718.8" y="672.7" width="21.0" height="3.5" fill="#cacace"/>
<rect x="1713.7" y="678.6" width="29.0" height="3.5" fill="#cacace"/>
<rect x="1725.2" y="667.5" width="4" height="4" fill="#4a4a4e"/>
<rect x="1708.8" y="665.5" width="2" height="28.5" fill="#a8a8ac"/>
<rect x="1707.8" y="688.5" width="4" height="3.5" fill="#505054"/>
<rect x="1756.5" y="667.0" width="44.7" height="18.5" fill="#606065"/>
<rect x="1755.0" y="665.5" width="2" height="28.5" fill="#a8a8ac"/>
<rect x="1754.0" y="688.5" width="4" height="3.5" fill="#505054"/>
<rect x="1802.7" y="667.0" width="19.3" height="18.5" fill="#606065"/>
<rect x="1801.2" y="665.5" width="2" height="28.5" fill="#a8a8ac"/>
<rect x="1800.2" y="688.5" width="4" height="3.5" fill="#505054"/>
<rect x="803.0" y="697" width="4.3" height="51.5" fill="#5a5a5f"/>
<rect x="808.0" y="697" width="23.0" height="23.5" fill="#d3d4d9"/>
<rect x="808.0" y="725.5" width="23.0" height="23" fill="#d3d4d9"/>
<rect x="832.5" y="697" width="21.0" height="51.5" fill="#5a5a5f"/>
<rect x="854.2" y="697" width="23.0" height="23.5" fill="#d3d4d9"/>
<rect x="854.2" y="725.5" width="23.0" height="23" fill="#d3d4d9"/>
<rect x="878.7" y="697" width="21.0" height="51.5" fill="#5a5a5f"/>
<rect x="900.4" y="697" width="23.0" height="23.5" fill="#d3d4d9"/>
<rect x="900.4" y="725.5" width="23.0" height="23" fill="#d3d4d9"/>
<rect x="924.9" y="697" width="21.0" height="51.5" fill="#5a5a5f"/>
<rect x="946.6" y="697" width="23.0" height="23.5" fill="#d3d4d9"/>
<rect x="946.6" y="725.5" width="23.0" height="23" fill="#d3d4d9"/>
<rect x="971.1" y="697" width="21.0" height="51.5" fill="#5a5a5f"/>
<rect x="992.8" y="697" width="23.0" height="23.5" fill="#d3d4d9"/>
<rect x="992.8" y="725.5" width="23.0" height="23" fill="#d3d4d9"/>
<rect x="1017.3" y="697" width="21.0" height="51.5" fill="#5a5a5f"/>
<rect x="1039.0" y="697" width="23.0" height="23.5" fill="#d3d4d9"/>
<rect x="1039.0" y="725.5" width="23.0" height="23" fill="#d3d4d9"/>
<rect x="1063.5" y="697" width="21.0" height="51.5" fill="#5a5a5f"/>
<rect x="1085.2" y="697" width="23.0" height="23.5" fill="#d3d4d9"/>
<rect x="1085.2" y="725.5" width="23.0" height="23" fill="#d3d4d9"/>
<rect x="1109.7" y="697" width="21.0" height="51.5" fill="#5a5a5f"/>
<rect x="1131.4" y="697" width="23.0" height="23.5" fill="#d3d4d9"/>
<rect x="1131.4" y="725.5" width="23.0" height="23" fill="#d3d4d9"/>
<rect x="1155.9" y="697" width="21.0" height="51.5" fill="#5a5a5f"/>
<rect x="1177.6" y="697" width="23.0" height="23.5" fill="#d3d4d9"/>
<rect x="1177.6" y="725.5" width="23.0" height="23" fill="#d3d4d9"/>
<rect x="1202.1" y="697" width="21.0" height="51.5" fill="#5a5a5f"/>
<rect x="1223.8" y="697" width="23.0" height="23.5" fill="#d3d4d9"/>
<rect x="1223.8" y="725.5" width="23.0" height="23" fill="#d3d4d9"/>
<rect x="1248.3" y="697" width="21.0" height="51.5" fill="#5a5a5f"/>
<rect x="1270.0" y="697" width="23.0" height="23.5" fill="#d3d4d9"/>
<rect x="1270.0" y="725.5" width="23.0" height="23" fill="#d3d4d9"/>
<rect x="1294.5" y="697" width="21.0" height="51.5" fill="#5a5a5f"/>
<rect x="1316.2" y="697" width="23.0" height="23.5" fill="#d3d4d9"/>
<rect x="1316.2" y="725.5" width="23.0" height="23" fill="#d3d4d9"/>
<rect x="1340.7" y="697" width="21.0" height="51.5" fill="#5a5a5f"/>
<rect x="1362.4" y="697" width="23.0" height="23.5" fill="#d3d4d9"/>
<rect x="1362.4" y="725.5" width="23.0" height="23" fill="#d3d4d9"/>
<rect x="1386.9" y="697" width="21.0" height="51.5" fill="#5a5a5f"/>
<rect x="1408.6" y="697" width="23.0" height="23.5" fill="#d3d4d9"/>
<rect x="1408.6" y="725.5" width="23.0" height="23" fill="#d3d4d9"/>
<rect x="1433.1" y="697" width="21.0" height="51.5" fill="#5a5a5f"/>
<rect x="1454.8" y="697" width="23.0" height="23.5" fill="#d3d4d9"/>
<rect x="1454.8" y="725.5" width="23.0" height="23" fill="#d3d4d9"/>
<rect x="1479.3" y="697" width="21.0" height="51.5" fill="#5a5a5f"/>
<rect x="1501.0" y="697" width="23.0" height="23.5" fill="#d3d4d9"/>
<rect x="1501.0" y="725.5" width="23.0" height="23" fill="#d3d4d9"/>
<rect x="1525.5" y="697" width="21.0" height="51.5" fill="#5a5a5f"/>
<rect x="1547.2" y="697" width="23.0" height="23.5" fill="#d3d4d9"/>
<rect x="1547.2" y="725.5" width="23.0" height="23" fill="#d3d4d9"/>
<rect x="1571.7" y="697" width="21.0" height="51.5" fill="#5a5a5f"/>
<rect x="1593.4" y="697" width="23.0" height="23.5" fill="#d3d4d9"/>
<rect x="1593.4" y="725.5" width="23.0" height="23" fill="#d3d4d9"/>
<rect x="1617.9" y="697" width="21.0" height="51.5" fill="#5a5a5f"/>
<rect x="1639.6" y="697" width="23.0" height="23.5" fill="#d3d4d9"/>
<rect x="1639.6" y="725.5" width="23.0" height="23" fill="#d3d4d9"/>
<rect x="1664.1" y="697" width="21.0" height="51.5" fill="#5a5a5f"/>
<rect x="1685.8" y="697" width="23.0" height="23.5" fill="#d3d4d9"/>
<rect x="1685.8" y="725.5" width="23.0" height="23" fill="#d3d4d9"/>
<rect x="1710.3" y="697" width="21.0" height="51.5" fill="#5a5a5f"/>
<rect x="1732.0" y="697" width="23.0" height="23.5" fill="#d3d4d9"/>
<rect x="1732.0" y="725.5" width="23.0" height="23" fill="#d3d4d9"/>
<rect x="1756.5" y="697" width="21.0" height="51.5" fill="#5a5a5f"/>
<rect x="1778.2" y="697" width="23.0" height="23.5" fill="#d3d4d9"/>
<rect x="1778.2" y="725.5" width="23.0" height="23" fill="#d3d4d9"/>
<rect x="1802.7" y="697" width="19.3" height="51.5" fill="#5a5a5f"/>
<rect x="47" y="751" width="1775" height="37.5" fill="#a8a8ad"/>
<rect x="47" y="751" width="1775" height="7.5" fill="#bdbdc2"/>
<rect x="47" y="778.5" width="1775" height="9" fill="#b8b8bd"/>
<rect x="47" y="783.0" width="1775" height="1.2" fill="#8c8c90"/>
<rect x="47.0" y="759.5" width="35.3" height="18.5" fill="#606065"/>
<rect x="83.8" y="759.5" width="44.5" height="18.5" fill="#606065"/>
<rect x="82.3" y="758" width="2" height="28.5" fill="#a8a8ac"/>
<rect x="81.3" y="781.0" width="4" height="3.5" fill="#505054"/>
<rect x="129.8" y="759.5" width="44.5" height="18.5" fill="#606065"/>
<rect x="128.3" y="758" width="2" height="28.5" fill="#a8a8ac"/>
<rect x="127.3" y="781.0" width="4" height="3.5" fill="#505054"/>
<rect x="175.8" y="759.5" width="44.5" height="18.5" fill="#606065"/>
<rect x="174.3" y="758" width="2" height="28.5" fill="#a8a8ac"/>
<rect x="173.3" y="781.0" width="4" height="3.5" fill="#505054"/>
<rect x="221.8" y="759.5" width="44.5" height="18.5" fill="#a0a0a4"/>
<rect x="231.1" y="760.3" width="26.6" height="3.5" fill="#cacace"/>
<rect x="230.4" y="766.4" width="33.2" height="3.5" fill="#cacace"/>
<rect x="225.7" y="770.0" width="20.4" height="3.5" fill="#cacace"/>
<rect x="239.3" y="760" width="4" height="4" fill="#4a4a4e"/>
<rect x="220.3" y="758" width="2" height="28.5" fill="#a8a8ac"/>
<rect x="219.3" y="781.0" width="4" height="3.5" fill="#505054"/>
<rect x="267.8" y="759.5" width="44.5" height="18.5" fill="#a0a0a4"/>
<rect x="276.3" y="761.7" width="18.6" height="3.5" fill="#cacace"/>
<rect x="276.5" y="765.4" width="28.9" height="3.5" fill="#cacace"/>
<rect x="273.1" y="770.8" width="20.5" height="3.5" fill="#cacace"/>
<rect x="292.9" y="760" width="4" height="4" fill="#4a4a4e"/>
<rect x="266.3" y="758" width="2" height="28.5" fill="#a8a8ac"/>
<rect x="265.3" y="781.0" width="4" height="3.5" fill="#505054"/>
<rect x="313.8" y="759.5" width="44.5" height="18.5" fill="#606065"/>
<rect x="312.3" y="758" width="2" height="28.5" fill="#a8a8ac"/>
<rect x="311.3" y="781.0" width="4" height="3.5" fill="#505054"/>
<rect x="359.8" y="759.5" width="44.5" height="18.5" fill="#a0a0a4"/>
<rect x="369.0" y="760.8" width="27.8" height="3.5" fill="#cacace"/>
<rect x="363.6" y="765.2" width="21.5" height="3.5" fill="#cacace"/>
<rect x="366.2" y="771.8" width="18.7" height="3.5" fill="#cacace"/>
<rect x="370.0" y="760" width="4" height="4" fill="#4a4a4e"/>
<rect x="358.3" y="758" width="2" height="28.5" fill="#a8a8ac"/>
<rect x="357.3" y="781.0" width="4" height="3.5" fill="#505054"/>
<rect x="405.8" y="759.5" width="44.5" height="18.5" fill="#a0a0a4"/>
<rect x="411.0" y="760.7" width="27.2" height="3.5" fill="#cacace"/>
<rect x="409.8" y="765.8" width="18.1" height="3.5" fill="#cacace"/>
<rect x="409.6" y="771.2" width="18.3" height="3.5" fill="#cacace"/>
<rect x="422.4" y="760" width="4" height="4" fill="#4a4a4e"/>
<rect x="404.3" y="758" width="2" height="28.5" fill="#a8a8ac"/>
<rect x="403.3" y="781.0" width="4" height="3.5" fill="#505054"/>
<rect x="451.8" y="759.5" width="44.5" height="18.5" fill="#606065"/>
<rect x="450.3" y="758" width="2" height="28.5" fill="#a8a8ac"/>
<rect x="449.3" y="781.0" width="4" height="3.5" fill="#505054"/>
<rect x="497.8" y="759.5" width="44.5" height="18.5" fill="#606065"/>
<rect x="496.3" y="758" width="2" height="28.5" fill="#a8a8ac"/>
<rect x="495.3" y="781.0" width="4" height="3.5" fill="#505054"/>
<rect x="543.8" y="759.5" width="44.5" height="18.5" fill="#606065"/>
<rect x="542.3" y="758" width="2" height="28.5" fill="#a8a8ac"/>
<rect x="541.3" y="781.0" width="4" height="3.5" fill="#505054"/>
<rect x="589.8" y="759.5" width="44.5" height="18.5" fill="#606065"/>
<rect x="588.3" y="758" width="2" height="28.5" fill="#a8a8ac"/>
<rect x="587.3" y="781.0" width="4" height="3.5" fill="#505054"/>
<rect x="635.8" y="759.5" width="44.5" height="18.5" fill="#a0a0a4"/>
<rect x="636.8" y="762.0" width="20.3" height="3.5" fill="#cacace"/>
<rect x="639.0" y="766.3" width="22.4" height="3.5" fill="#cacace"/>
<rect x="638.9" y="771.0" width="27.1" height="3.5" fill="#cacace"/>
<rect x="653.9" y="760" width="4" height="4" fill="#4a4a4e"/>
<rect x="634.3" y="758" width="2" height="28.5" fill="#a8a8ac"/>
<rect x="633.3" y="781.0" width="4" height="3.5" fill="#505054"/>
<rect x="681.8" y="759.5" width="44.5" height="18.5" fill="#a0a0a4"/>
<rect x="692.2" y="761.9" width="18.5" height="3.5" fill="#cacace"/>
<rect x="690.0" y="766.1" width="32.0" height="3.5" fill="#cacace"/>
<rect x="688.6" y="771.5" width="28.2" height="3.5" fill="#cacace"/>
<rect x="696.3" y="760" width="4" height="4" fill="#4a4a4e"/>
<rect x="680.3" y="758" width="2" height="28.5" fill="#a8a8ac"/>
<rect x="679.3" y="781.0" width="4" height="3.5" fill="#505054"/>
<rect x="727.8" y="759.5" width="44.5" height="18.5" fill="#a0a0a4"/>
<rect x="736.3" y="760.6" width="32.0" height="3.5" fill="#cacace"/>
<rect x="735.1" y="766.9" width="22.9" height="3.5" fill="#cacace"/>
<rect x="735.7" y="771.5" width="26.1" height="3.5" fill="#cacace"/>
<rect x="748.3" y="760" width="4" height="4" fill="#4a4a4e"/>
<rect x="726.3" y="758" width="2" height="28.5" fill="#a8a8ac"/>
<rect x="725.3" y="781.0" width="4" height="3.5" fill="#505054"/>
<rect x="773.8" y="759.5" width="44.5" height="18.5" fill="#606065"/>
<rect x="772.3" y="758" width="2" height="28.5" fill="#a8a8ac"/>
<rect x="771.3" y="781.0" width="4" height="3.5" fill="#505054"/>
<rect x="819.8" y="759.5" width="44.5" height="18.5" fill="#606065"/>
<rect x="818.3" y="758" width="2" height="28.5" fill="#a8a8ac"/>
<rect x="817.3" y="781.0" width="4" height="3.5" fill="#505054"/>
<rect x="865.8" y="759.5" width="44.5" height="18.5" fill="#606065"/>
<rect x="864.3" y="758" width="2" height="28.5" fill="#a8a8ac"/>
<rect x="863.3" y="781.0" width="4" height="3.5" fill="#505054"/>
<rect x="911.8" y="759.5" width="44.5" height="18.5" fill="#606065"/>
<rect x="910.3" y="758" width="2" height="28.5" fill="#a8a8ac"/>
<rect x="909.3" y="781.0" width="4" height="3.5" fill="#505054"/>
<rect x="957.8" y="759.5" width="44.5" height="18.5" fill="#606065"/>
<rect x="956.3" y="758" width="2" height="28.5" fill="#a8a8ac"/>
<rect x="955.3" y="781.0" width="4" height="3.5" fill="#505054"/>
<rect x="1003.8" y="759.5" width="44.5" height="18.5" fill="#a0a0a4"/>
<rect x="1009.8" y="760.7" width="24.5" height="3.5" fill="#cacace"/>
<rect x="1007.7" y="765.1" width="23.2" height="3.5" fill="#cacace"/>
<rect x="1009.1" y="772.0" width="23.9" height="3.5" fill="#cacace"/>
<rect x="1015.7" y="760" width="4" height="4" fill="#4a4a4e"/>
<rect x="1002.3" y="758" width="2" height="28.5" fill="#a8a8ac"/>
<rect x="1001.3" y="781.0" width="4" height="3.5" fill="#505054"/>
<rect x="1049.8" y="759.5" width="44.5" height="18.5" fill="#a0a0a4"/>
<rect x="1053.8" y="760.5" width="20.2" height="3.5" fill="#cacace"/>
<rect x="1059.0" y="765.0" width="25.3" height="3.5" fill="#cacace"/>
<rect x="1056.0" y="770.9" width="22.8" height="3.5" fill="#cacace"/>
<rect x="1060.0" y="760" width="4" height="4" fill="#4a4a4e"/>
<rect x="1048.3" y="758" width="2" height="28.5" fill="#a8a8ac"/>
<rect x="1047.3" y="781.0" width="4" height="3.5" fill="#505054"/>
<rect x="1095.8" y="759.5" width="44.5" height="18.5" fill="#a0a0a4"/>
<rect x="1099.3" y="760.1" width="22.9" height="3.5" fill="#cacace"/>
<rect x="1101.8" y="766.5" width="33.0" height="3.5" fill="#cacace"/>
<rect x="1105.5" y="770.7" width="27.3" height="3.5" fill="#cacace"/>
<rect x="1104.1" y="760" width="4" height="4" fill="#4a4a4e"/>
<rect x="1094.3" y="758" width="2" height="28.5" fill="#a8a8ac"/>
<rect x="1093.3" y="781.0" width="4" height="3.5" fill="#505054"/>
<rect x="1141.8" y="759.5" width="44.5" height="18.5" fill="#a0a0a4"/>
<rect x="1148.1" y="760.4" width="33.8" height="3.5" fill="#cacace"/>
<rect x="1150.0" y="765.7" width="24.9" height="3.5" fill="#cacace"/>
<rect x="1143.0" y="771.7" width="25.8" height="3.5" fill="#cacace"/>
<rect x="1168.1" y="760" width="4" height="4" fill="#4a4a4e"/>
<rect x="1140.3" y="758" width="2" height="28.5" fill="#a8a8ac"/>
<rect x="1139.3" y="781.0" width="4" height="3.5" fill="#505054"/>
<rect x="1187.8" y="759.5" width="44.5" height="18.5" fill="#606065"/>
<rect x="1186.3" y="758" width="2" height="28.5" fill="#a8a8ac"/>
<rect x="1185.3" y="781.0" width="4" height="3.5" fill="#505054"/>
<rect x="1233.8" y="759.5" width="44.5" height="18.5" fill="#606065"/>
<rect x="1232.3" y="758" width="2" height="28.5" fill="#a8a8ac"/>
<rect x="1231.3" y="781.0" width="4" height="3.5" fill="#505054"/>
<rect x="1279.8" y="759.5" width="44.5" height="18.5" fill="#606065"/>
<rect x="1278.3" y="758" width="2" height="28.5" fill="#a8a8ac"/>
<rect x="1277.3" y="781.0" width="4" height="3.5" fill="#505054"/>
<rect x="1325.8" y="759.5" width="44.5" height="18.5" fill="#606065"/>
<rect x="1324.3" y="758" width="2" height="28.5" fill="#a8a8ac"/>
<rect x="1323.3" y="781.0" width="4" height="3.5" fill="#505054"/>
<rect x="1371.8" y="759.5" width="44.5" height="18.5" fill="#606065"/>
<rect x="1370.3" y="758" width="2" height="28.5" fill="#a8a8ac"/>
<rect x="1369.3" y="781.0" width="4" height="3.5" fill="#505054"/>
<rect x="1417.8" y="759.5" width="44.5" height="18.5" fill="#a0a0a4"/>
<rect x="1420.9" y="760.6" width="18.4" height="3.5" fill="#cacace"/>
<rect x="1421.0" y="765.3" width="29.3" height="3.5" fill="#cacace"/>
<rect x="1422.3" y="770.4" width="21.2" height="3.5" fill="#cacace"/>
<rect x="1437.6" y="760" width="4" height="4" fill="#4a4a4e"/>
<rect x="1416.3" y="758" width="2" height="28.5" fill="#a8a8ac"/>
<rect x="1415.3" y="781.0" width="4" height="3.5" fill="#505054"/>
<rect x="1463.8" y="759.5" width="44.5" height="18.5" fill="#a0a0a4"/>
<rect x="1470.8" y="761.7" width="21.1" height="3.5" fill="#cacace"/>
<rect x="1473.9" y="766.5" width="27.6" height="3.5" fill="#cacace"/>
<rect x="1472.4" y="770.2" width="32.0" height="3.5" fill="#cacace"/>
<rect x="1477.8" y="760" width="4" height="4" fill="#4a4a4e"/>
<rect x="1462.3" y="758" width="2" height="28.5" fill="#a8a8ac"/>
<rect x="1461.3" y="781.0" width="4" height="3.5" fill="#505054"/>
<rect x="1509.8" y="759.5" width="44.5" height="18.5" fill="#a0a0a4"/>
<rect x="1512.2" y="760.3" width="26.6" height="3.5" fill="#cacace"/>
<rect x="1516.7" y="766.8" width="32.8" height="3.5" fill="#cacace"/>
<rect x="1513.6" y="770.4" width="30.0" height="3.5" fill="#cacace"/>
<rect x="1530.6" y="760" width="4" height="4" fill="#4a4a4e"/>
<rect x="1508.3" y="758" width="2" height="28.5" fill="#a8a8ac"/>
<rect x="1507.3" y="781.0" width="4" height="3.5" fill="#505054"/>
<rect x="1555.8" y="759.5" width="44.5" height="18.5" fill="#a0a0a4"/>
<rect x="1563.1" y="760.8" width="23.4" height="3.5" fill="#cacace"/>
<rect x="1560.4" y="765.1" width="18.7" height="3.5" fill="#cacace"/>
<rect x="1559.6" y="771.3" width="25.9" height="3.5" fill="#cacace"/>
<rect x="1575.5" y="760" width="4" height="4" fill="#4a4a4e"/>
<rect x="1554.3" y="758" width="2" height="28.5" fill="#a8a8ac"/>
<rect x="1553.3" y="781.0" width="4" height="3.5" fill="#505054"/>
<rect x="1601.8" y="759.5" width="44.5" height="18.5" fill="#606065"/>
<rect x="1600.3" y="758" width="2" height="28.5" fill="#a8a8ac"/>
<rect x="1599.3" y="781.0" width="4" height="3.5" fill="#505054"/>
<rect x="1647.8" y="759.5" width="44.5" height="18.5" fill="#606065"/>
<rect x="1646.3" y="758" width="2" height="28.5" fill="#a8a8ac"/>
<rect x="1645.3" y="781.0" width="4" height="3.5" fill="#505054"/>
<rect x="1693.8" y="759.5" width="44.5" height="18.5" fill="#606065"/>
<rect x="1692.3" y="758" width="2" height="28.5" fill="#a8a8ac"/>
<rect x="1691.3" y="781.0" width="4" height="3.5" fill="#505054"/>
<rect x="1739.8" y="759.5" width="44.5" height="18.5" fill="#606065"/>
<rect x="1738.3" y="758" width="2" height="28.5" fill="#a8a8ac"/>
<rect x="1737.3" y="781.0" width="4" height="3.5" fill="#505054"/>
<rect x="1785.8" y="759.5" width="36.2" height="18.5" fill="#a0a0a4"/>
<rect x="1790.9" y="760.5" width="18.2" height="3.5" fill="#cacace"/>
<rect x="1791.9" y="766.9" width="33.8" height="3.5" fill="#cacace"/>
<rect x="1792.4" y="770.1" width="29.6" height="3.5" fill="#cacace"/>
<rect x="1799.5" y="760" width="4" height="4" fill="#4a4a4e"/>
<rect x="1784.3" y="758" width="2" height="28.5" fill="#a8a8ac"/>
<rect x="1783.3" y="781.0" width="4" height="3.5" fill="#505054"/>
<rect x="47.0" y="789.5" width="4.0" height="23.5" fill="#d3d4d9"/>
<rect x="52.5" y="789.5" width="21.5" height="23.5" fill="#5a5a5f"/>
<rect x="75.0" y="789.5" width="22.0" height="23.5" fill="#d3d4d9"/>
<rect x="98.5" y="789.5" width="21.5" height="23.5" fill="#5a5a5f"/>
<rect x="121.0" y="789.5" width="22.0" height="23.5" fill="#d3d4d9"/>
<rect x="144.5" y="789.5" width="21.5" height="23.5" fill="#5a5a5f"/>
<rect x="167.0" y="789.5" width="22.0" height="23.5" fill="#d3d4d9"/>
<rect x="190.5" y="789.5" width="21.5" height="23.5" fill="#5a5a5f"/>
<rect x="213.0" y="789.5" width="22.0" height="23.5" fill="#d3d4d9"/>
<rect x="236.5" y="789.5" width="21.5" height="23.5" fill="#5a5a5f"/>
<rect x="259.0" y="789.5" width="22.0" height="23.5" fill="#d3d4d9"/>
<rect x="282.5" y="789.5" width="21.5" height="23.5" fill="#5a5a5f"/>
<rect x="305.0" y="789.5" width="22.0" height="23.5" fill="#d3d4d9"/>
<rect x="328.5" y="789.5" width="21.5" height="23.5" fill="#5a5a5f"/>
<rect x="351.0" y="789.5" width="22.0" height="23.5" fill="#d3d4d9"/>
<rect x="374.5" y="789.5" width="21.5" height="23.5" fill="#5a5a5f"/>
<rect x="397.0" y="789.5" width="22.0" height="23.5" fill="#d3d4d9"/>
<rect x="420.5" y="789.5" width="21.5" height="23.5" fill="#5a5a5f"/>
<rect x="443.0" y="789.5" width="22.0" height="23.5" fill="#d3d4d9"/>
<rect x="466.5" y="789.5" width="21.5" height="23.5" fill="#5a5a5f"/>
<rect x="489.0" y="789.5" width="22.0" height="23.5" fill="#d3d4d9"/>
<rect x="512.5" y="789.5" width="21.5" height="23.5" fill="#5a5a5f"/>
<rect x="535.0" y="789.5" width="22.0" height="23.5" fill="#d3d4d9"/>
<rect x="558.5" y="789.5" width="21.5" height="23.5" fill="#5a5a5f"/>
<rect x="581.0" y="789.5" width="22.0" height="23.5" fill="#d3d4d9"/>
<rect x="604.5" y="789.5" width="21.5" height="23.5" fill="#5a5a5f"/>
<rect x="627.0" y="789.5" width="22.0" height="23.5" fill="#d3d4d9"/>
<rect x="650.5" y="789.5" width="21.5" height="23.5" fill="#5a5a5f"/>
<rect x="673.0" y="789.5" width="22.0" height="23.5" fill="#d3d4d9"/>
<rect x="696.5" y="789.5" width="21.5" height="23.5" fill="#5a5a5f"/>
<rect x="719.0" y="789.5" width="22.0" height="23.5" fill="#d3d4d9"/>
<rect x="742.5" y="789.5" width="21.5" height="23.5" fill="#5a5a5f"/>
<rect x="765.0" y="789.5" width="22.0" height="23.5" fill="#d3d4d9"/>
<rect x="788.5" y="789.5" width="21.5" height="23.5" fill="#5a5a5f"/>
<rect x="811.0" y="789.5" width="22.0" height="23.5" fill="#d3d4d9"/>
<rect x="834.5" y="789.5" width="21.5" height="23.5" fill="#5a5a5f"/>
<rect x="857.0" y="789.5" width="22.0" height="23.5" fill="#d3d4d9"/>
<rect x="880.5" y="789.5" width="21.5" height="23.5" fill="#5a5a5f"/>
<rect x="903.0" y="789.5" width="22.0" height="23.5" fill="#d3d4d9"/>
<rect x="926.5" y="789.5" width="21.5" height="23.5" fill="#5a5a5f"/>
<rect x="949.0" y="789.5" width="22.0" height="23.5" fill="#d3d4d9"/>
<rect x="972.5" y="789.5" width="21.5" height="23.5" fill="#5a5a5f"/>
<rect x="995.0" y="789.5" width="22.0" height="23.5" fill="#d3d4d9"/>
<rect x="1018.5" y="789.5" width="21.5" height="23.5" fill="#5a5a5f"/>
<rect x="1041.0" y="789.5" width="22.0" height="23.5" fill="#d3d4d9"/>
<rect x="1064.5" y="789.5" width="21.5" height="23.5" fill="#5a5a5f"/>
<rect x="1087.0" y="789.5" width="22.0" height="23.5" fill="#d3d4d9"/>
<rect x="1110.5" y="789.5" width="21.5" height="23.5" fill="#5a5a5f"/>
<rect x="1133.0" y="789.5" width="22.0" height="23.5" fill="#d3d4d9"/>
<rect x="1156.5" y="789.5" width="21.5" height="23.5" fill="#5a5a5f"/>
<rect x="1179.0" y="789.5" width="22.0" height="23.5" fill="#d3d4d9"/>
<rect x="1202.5" y="789.5" width="21.5" height="23.5" fill="#5a5a5f"/>
<rect x="1225.0" y="789.5" width="22.0" height="23.5" fill="#d3d4d9"/>
<rect x="1248.5" y="789.5" width="21.5" height="23.5" fill="#5a5a5f"/>
<rect x="1271.0" y="789.5" width="22.0" height="23.5" fill="#d3d4d9"/>
<rect x="1294.5" y="789.5" width="21.5" height="23.5" fill="#5a5a5f"/>
<rect x="1317.0" y="789.5" width="22.0" height="23.5" fill="#d3d4d9"/>
<rect x="1340.5" y="789.5" width="21.5" height="23.5" fill="#5a5a5f"/>
<rect x="1363.0" y="789.5" width="22.0" height="23.5" fill="#d3d4d9"/>
<rect x="1386.5" y="789.5" width="21.5" height="23.5" fill="#5a5a5f"/>
<rect x="1409.0" y="789.5" width="22.0" height="23.5" fill="#d3d4d9"/>
<rect x="1432.5" y="789.5" width="21.5" height="23.5" fill="#5a5a5f"/>
<rect x="1455.0" y="789.5" width="22.0" height="23.5" fill="#d3d4d9"/>
<rect x="1478.5" y="789.5" width="21.5" height="23.5" fill="#5a5a5f"/>
<rect x="1501.0" y="789.5" width="22.0" height="23.5" fill="#d3d4d9"/>
<rect x="1524.5" y="789.5" width="21.5" height="23.5" fill="#5a5a5f"/>
<rect x="1547.0" y="789.5" width="22.0" height="23.5" fill="#d3d4d9"/>
<rect x="1570.5" y="789.5" width="21.5" height="23.5" fill="#5a5a5f"/>
<rect x="1593.0" y="789.5" width="22.0" height="23.5" fill="#d3d4d9"/>
<rect x="1616.5" y="789.5" width="21.5" height="23.5" fill="#5a5a5f"/>
<rect x="1639.0" y="789.5" width="22.0" height="23.5" fill="#d3d4d9"/>
<rect x="1662.5" y="789.5" width="21.5" height="23.5" fill="#5a5a5f"/>
<rect x="1685.0" y="789.5" width="22.0" height="23.5" fill="#d3d4d9"/>
<rect x="1708.5" y="789.5" width="21.5" height="23.5" fill="#5a5a5f"/>
<rect x="1731.0" y="789.5" width="22.0" height="23.5" fill="#d3d4d9"/>
<rect x="1754.5" y="789.5" width="21.5" height="23.5" fill="#5a5a5f"/>
<rect x="1777.0" y="789.5" width="22.0" height="23.5" fill="#d3d4d9"/>
<rect x="1800.5" y="789.5" width="21.5" height="23.5" fill="#5a5a5f"/>
<rect x="47.0" y="819.5" width="4.0" height="14" fill="#bdbdc1"/>
<rect x="52.5" y="819.5" width="21.5" height="14" fill="#66666a"/>
<rect x="75.0" y="819.5" width="22.0" height="14" fill="#bdbdc1"/>
<rect x="98.5" y="819.5" width="21.5" height="14" fill="#66666a"/>
<rect x="121.0" y="819.5" width="22.0" height="14" fill="#bdbdc1"/>
<rect x="144.5" y="819.5" width="21.5" height="14" fill="#66666a"/>
<rect x="167.0" y="819.5" width="22.0" height="14" fill="#bdbdc1"/>
<rect x="190.5" y="819.5" width="21.5" height="14" fill="#66666a"/>
<rect x="213.0" y="819.5" width="22.0" height="14" fill="#bdbdc1"/>
<rect x="236.5" y="819.5" width="21.5" height="14" fill="#66666a"/>
<rect x="259.0" y="819.5" width="22.0" height="14" fill="#bdbdc1"/>
<rect x="282.5" y="819.5" width="21.5" height="14" fill="#66666a"/>
<rect x="305.0" y="819.5" width="22.0" height="14" fill="#bdbdc1"/>
<rect x="328.5" y="819.5" width="21.5" height="14" fill="#66666a"/>
<rect x="351.0" y="819.5" width="22.0" height="14" fill="#bdbdc1"/>
<rect x="374.5" y="819.5" width="21.5" height="14" fill="#66666a"/>
<rect x="397.0" y="819.5" width="22.0" height="14" fill="#bdbdc1"/>
<rect x="420.5" y="819.5" width="21.5" height="14" fill="#66666a"/>
<rect x="443.0" y="819.5" width="22.0" height="14" fill="#bdbdc1"/>
<rect x="466.5" y="819.5" width="21.5" height="14" fill="#66666a"/>
<rect x="489.0" y="819.5" width="22.0" height="14" fill="#bdbdc1"/>
<rect x="512.5" y="819.5" width="21.5" height="14" fill="#66666a"/>
<rect x="535.0" y="819.5" width="22.0" height="14" fill="#bdbdc1"/>
<rect x="558.5" y="819.5" width="21.5" height="14" fill="#66666a"/>
<rect x="581.0" y="819.5" width="22.0" height="14" fill="#bdbdc1"/>
<rect x="604.5" y="819.5" width="21.5" height="14" fill="#66666a"/>
<rect x="627.0" y="819.5" width="22.0" height="14" fill="#bdbdc1"/>
<rect x="650.5" y="819.5" width="21.5" height="14" fill="#66666a"/>
<rect x="673.0" y="819.5" width="22.0" height="14" fill="#bdbdc1"/>
<rect x="696.5" y="819.5" width="21.5" height="14" fill="#66666a"/>
<rect x="719.0" y="819.5" width="22.0" height="14" fill="#bdbdc1"/>
<rect x="742.5" y="819.5" width="21.5" height="14" fill="#66666a"/>
<rect x="765.0" y="819.5" width="22.0" height="14" fill="#bdbdc1"/>
<rect x="788.5" y="819.5" width="21.5" height="14" fill="#66666a"/>
<rect x="811.0" y="819.5" width="22.0" height="14" fill="#bdbdc1"/>
<rect x="834.5" y="819.5" width="21.5" height="14" fill="#66666a"/>
<rect x="857.0" y="819.5" width="22.0" height="14" fill="#bdbdc1"/>
<rect x="880.5" y="819.5" width="21.5" height="14" fill="#66666a"/>
<rect x="903.0" y="819.5" width="22.0" height="14" fill="#bdbdc1"/>
<rect x="926.5" y="819.5" width="21.5" height="14" fill="#66666a"/>
<rect x="949.0" y="819.5" width="22.0" height="14" fill="#bdbdc1"/>
<rect x="972.5" y="819.5" width="21.5" height="14" fill="#66666a"/>
<rect x="995.0" y="819.5" width="22.0" height="14" fill="#bdbdc1"/>
<rect x="1018.5" y="819.5" width="21.5" height="14" fill="#66666a"/>
<rect x="1041.0" y="819.5" width="22.0" height="14" fill="#bdbdc1"/>
<rect x="1064.5" y="819.5" width="21.5" height="14" fill="#66666a"/>
<rect x="1087.0" y="819.5" width="22.0" height="14" fill="#bdbdc1"/>
<rect x="1110.5" y="819.5" width="21.5" height="14" fill="#66666a"/>
<rect x="1133.0" y="819.5" width="22.0" height="14" fill="#bdbdc1"/>
<rect x="1156.5" y="819.5" width="21.5" height="14" fill="#66666a"/>
<rect x="1179.0" y="819.5" width="22.0" height="14" fill="#bdbdc1"/>
<rect x="1202.5" y="819.5" width="21.5" height="14" fill="#66666a"/>
<rect x="1225.0" y="819.5" width="22.0" height="14" fill="#bdbdc1"/>
<rect x="1248.5" y="819.5" width="21.5" height="14" fill="#66666a"/>
<rect x="1271.0" y="819.5" width="22.0" height="14" fill="#bdbdc1"/>
<rect x="1294.5" y="819.5" width="21.5" height="14" fill="#66666a"/>
<rect x="1317.0" y="819.5" width="22.0" height="14" fill="#bdbdc1"/>
<rect x="1340.5" y="819.5" width="21.5" height="14" fill="#66666a"/>
<rect x="1363.0" y="819.5" width="22.0" height="14" fill="#bdbdc1"/>
<rect x="1386.5" y="819.5" width="21.5" height="14" fill="#66666a"/>
<rect x="1409.0" y="819.5" width="22.0" height="14" fill="#bdbdc1"/>
<rect x="1432.5" y="819.5" width="21.5" height="14" fill="#66666a"/>
<rect x="1455.0" y="819.5" width="22.0" height="14" fill="#bdbdc1"/>
<rect x="1478.5" y="819.5" width="21.5" height="14" fill="#66666a"/>
<rect x="1501.0" y="819.5" width="22.0" height="14" fill="#bdbdc1"/>
<rect x="1524.5" y="819.5" width="21.5" height="14" fill="#66666a"/>
<rect x="1547.0" y="819.5" width="22.0" height="14" fill="#bdbdc1"/>
<rect x="1570.5" y="819.5" width="21.5" height="14" fill="#66666a"/>
<rect x="1593.0" y="819.5" width="22.0" height="14" fill="#bdbdc1"/>
<rect x="1616.5" y="819.5" width="21.5" height="14" fill="#66666a"/>
<rect x="1639.0" y="819.5" width="22.0" height="14" fill="#bdbdc1"/>
<rect x="1662.5" y="819.5" width="21.5" height="14" fill="#66666a"/>
<rect x="1685.0" y="819.5" width="22.0" height="14" fill="#bdbdc1"/>
<rect x="1708.5" y="819.5" width="21.5" height="14" fill="#66666a"/>
<rect x="1731.0" y="819.5" width="22.0" height="14" fill="#bdbdc1"/>
<rect x="1754.5" y="819.5" width="21.5" height="14" fill="#66666a"/>
<rect x="1777.0" y="819.5" width="22.0" height="14" fill="#bdbdc1"/>
<rect x="1800.5" y="819.5" width="21.5" height="14" fill="#66666a"/>
</g></g>
<rect x="54" y="629.5" width="251" height="98.5" rx="13" fill="none" stroke="#ee5630" stroke-width="5"/>
<rect x="314.5" y="629.5" width="226.5" height="98.5" rx="13" fill="none" stroke="#96da8c" stroke-width="4.5"/>
<rect x="548.5" y="628" width="248.5" height="99.5" rx="13" fill="none" stroke="#dca4d8" stroke-width="4.5"/>
<path d="M58.5,746 Q58.5,733 71,733 L800,733 L820,733 Q823,733 820,731 Q806,729 804.5,718 L804.5,641 Q804.5,628 817,628 L1799,628 Q1812,628 1812,641 L1812,722 Q1812,728 1800,732 Q1812,736 1812,742 L1812,803 Q1812,816 1799,816 L71,816 Q58.5,816 58.5,803 Z" fill="none" stroke="#2a5cc0" stroke-width="5"/>
</svg>
</body></html>
